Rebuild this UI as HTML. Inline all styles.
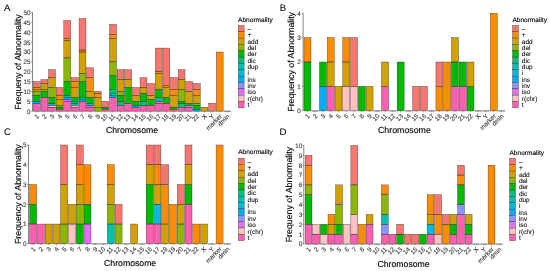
<!DOCTYPE html>
<html><head><meta charset="utf-8"><style>
html,body{margin:0;padding:0;background:#fff;overflow:hidden;}
svg{display:block;font-family:"Liberation Sans",sans-serif;will-change:transform;text-rendering:geometricPrecision;}
text{stroke:#000;stroke-width:0.13px;}
text.g{fill:#3d3d3d;stroke:#4a4a4a;stroke-width:0.14px;}
text.p{stroke-width:0.06px;}
text.l{fill:#111;stroke:#111;stroke-width:0.1px;}
</style></head><body>
<svg width="550" height="271" viewBox="0 0 550 271">
<rect width="550" height="271" fill="#fff"/>
<line x1="33.34" y1="111.25" x2="230.76" y2="111.25" stroke="#9a9a9a" stroke-width="0.6"/>
<rect x="33.34" y="103.22" width="6.86" height="7.88" fill="#FF5FB0"/>
<rect x="33.34" y="101.25" width="6.86" height="1.97" fill="#00ABF5"/>
<rect x="33.34" y="95.34" width="6.86" height="5.91" fill="#00BA00"/>
<rect x="33.34" y="91.4" width="6.86" height="3.94" fill="#8DB600"/>
<rect x="33.34" y="89.43" width="6.86" height="1.97" fill="#D2A100"/>
<rect x="33.34" y="87.46" width="6.86" height="1.97" fill="#FF8C00"/>
<rect x="33.34" y="81.55" width="6.86" height="5.91" fill="#F8766D"/>
<rect x="33.34" y="103.22" width="6.86" height="7.88" fill="none" stroke="#262626" stroke-width="0.35"/>
<rect x="33.34" y="101.25" width="6.86" height="1.97" fill="none" stroke="#262626" stroke-width="0.35"/>
<rect x="33.34" y="95.34" width="6.86" height="5.91" fill="none" stroke="#262626" stroke-width="0.35"/>
<rect x="33.34" y="91.4" width="6.86" height="3.94" fill="none" stroke="#262626" stroke-width="0.35"/>
<rect x="33.34" y="89.43" width="6.86" height="1.97" fill="none" stroke="#262626" stroke-width="0.35"/>
<rect x="33.34" y="87.46" width="6.86" height="1.97" fill="none" stroke="#262626" stroke-width="0.35"/>
<rect x="33.34" y="81.55" width="6.86" height="5.91" fill="none" stroke="#262626" stroke-width="0.35"/>
<rect x="40.97" y="97.31" width="6.86" height="13.79" fill="#FF5FB0"/>
<rect x="40.97" y="91.4" width="6.86" height="5.91" fill="#00BA00"/>
<rect x="40.97" y="89.43" width="6.86" height="1.97" fill="#8DB600"/>
<rect x="40.97" y="83.52" width="6.86" height="5.91" fill="#D2A100"/>
<rect x="40.97" y="79.58" width="6.86" height="3.94" fill="#F8766D"/>
<rect x="40.97" y="97.31" width="6.86" height="13.79" fill="none" stroke="#262626" stroke-width="0.35"/>
<rect x="40.97" y="91.4" width="6.86" height="5.91" fill="none" stroke="#262626" stroke-width="0.35"/>
<rect x="40.97" y="89.43" width="6.86" height="1.97" fill="none" stroke="#262626" stroke-width="0.35"/>
<rect x="40.97" y="83.52" width="6.86" height="5.91" fill="none" stroke="#262626" stroke-width="0.35"/>
<rect x="40.97" y="79.58" width="6.86" height="3.94" fill="none" stroke="#262626" stroke-width="0.35"/>
<rect x="48.59" y="107.16" width="6.86" height="3.94" fill="#FF5FB0"/>
<rect x="48.59" y="105.19" width="6.86" height="1.97" fill="#FFC1C1"/>
<rect x="48.59" y="103.22" width="6.86" height="1.97" fill="#00ABF5"/>
<rect x="48.59" y="97.31" width="6.86" height="5.91" fill="#00BA00"/>
<rect x="48.59" y="87.46" width="6.86" height="9.85" fill="#8DB600"/>
<rect x="48.59" y="77.61" width="6.86" height="9.85" fill="#D2A100"/>
<rect x="48.59" y="69.73" width="6.86" height="7.88" fill="#F8766D"/>
<rect x="48.59" y="107.16" width="6.86" height="3.94" fill="none" stroke="#262626" stroke-width="0.35"/>
<rect x="48.59" y="105.19" width="6.86" height="1.97" fill="none" stroke="#262626" stroke-width="0.35"/>
<rect x="48.59" y="103.22" width="6.86" height="1.97" fill="none" stroke="#262626" stroke-width="0.35"/>
<rect x="48.59" y="97.31" width="6.86" height="5.91" fill="none" stroke="#262626" stroke-width="0.35"/>
<rect x="48.59" y="87.46" width="6.86" height="9.85" fill="none" stroke="#262626" stroke-width="0.35"/>
<rect x="48.59" y="77.61" width="6.86" height="9.85" fill="none" stroke="#262626" stroke-width="0.35"/>
<rect x="48.59" y="69.73" width="6.86" height="7.88" fill="none" stroke="#262626" stroke-width="0.35"/>
<rect x="56.21" y="109.13" width="6.86" height="1.97" fill="#FF5FB0"/>
<rect x="56.21" y="107.16" width="6.86" height="1.97" fill="#00BA00"/>
<rect x="56.21" y="105.19" width="6.86" height="1.97" fill="#8DB600"/>
<rect x="56.21" y="99.28" width="6.86" height="5.91" fill="#D2A100"/>
<rect x="56.21" y="95.34" width="6.86" height="3.94" fill="#FF8C00"/>
<rect x="56.21" y="87.46" width="6.86" height="7.88" fill="#F8766D"/>
<rect x="56.21" y="109.13" width="6.86" height="1.97" fill="none" stroke="#262626" stroke-width="0.35"/>
<rect x="56.21" y="107.16" width="6.86" height="1.97" fill="none" stroke="#262626" stroke-width="0.35"/>
<rect x="56.21" y="105.19" width="6.86" height="1.97" fill="none" stroke="#262626" stroke-width="0.35"/>
<rect x="56.21" y="99.28" width="6.86" height="5.91" fill="none" stroke="#262626" stroke-width="0.35"/>
<rect x="56.21" y="95.34" width="6.86" height="3.94" fill="none" stroke="#262626" stroke-width="0.35"/>
<rect x="56.21" y="87.46" width="6.86" height="7.88" fill="none" stroke="#262626" stroke-width="0.35"/>
<rect x="63.83" y="101.25" width="6.86" height="9.85" fill="#FF5FB0"/>
<rect x="63.83" y="99.28" width="6.86" height="1.97" fill="#E36EF6"/>
<rect x="63.83" y="97.31" width="6.86" height="1.97" fill="#00ABF5"/>
<rect x="63.83" y="95.34" width="6.86" height="1.97" fill="#00BF7D"/>
<rect x="63.83" y="81.55" width="6.86" height="13.79" fill="#00BA00"/>
<rect x="63.83" y="57.91" width="6.86" height="23.64" fill="#8DB600"/>
<rect x="63.83" y="40.18" width="6.86" height="17.73" fill="#D2A100"/>
<rect x="63.83" y="38.21" width="6.86" height="1.97" fill="#FF8C00"/>
<rect x="63.83" y="20.48" width="6.86" height="17.73" fill="#F8766D"/>
<rect x="63.83" y="101.25" width="6.86" height="9.85" fill="none" stroke="#262626" stroke-width="0.35"/>
<rect x="63.83" y="99.28" width="6.86" height="1.97" fill="none" stroke="#262626" stroke-width="0.35"/>
<rect x="63.83" y="97.31" width="6.86" height="1.97" fill="none" stroke="#262626" stroke-width="0.35"/>
<rect x="63.83" y="95.34" width="6.86" height="1.97" fill="none" stroke="#262626" stroke-width="0.35"/>
<rect x="63.83" y="81.55" width="6.86" height="13.79" fill="none" stroke="#262626" stroke-width="0.35"/>
<rect x="63.83" y="57.91" width="6.86" height="23.64" fill="none" stroke="#262626" stroke-width="0.35"/>
<rect x="63.83" y="40.18" width="6.86" height="17.73" fill="none" stroke="#262626" stroke-width="0.35"/>
<rect x="63.83" y="38.21" width="6.86" height="1.97" fill="none" stroke="#262626" stroke-width="0.35"/>
<rect x="63.83" y="20.48" width="6.86" height="17.73" fill="none" stroke="#262626" stroke-width="0.35"/>
<rect x="71.45" y="107.16" width="6.86" height="3.94" fill="#FF5FB0"/>
<rect x="71.45" y="105.19" width="6.86" height="1.97" fill="#FFC1C1"/>
<rect x="71.45" y="103.22" width="6.86" height="1.97" fill="#00BFB2"/>
<rect x="71.45" y="101.25" width="6.86" height="1.97" fill="#00BF7D"/>
<rect x="71.45" y="97.31" width="6.86" height="3.94" fill="#00BA00"/>
<rect x="71.45" y="87.46" width="6.86" height="9.85" fill="#D2A100"/>
<rect x="71.45" y="81.55" width="6.86" height="5.91" fill="#FF8C00"/>
<rect x="71.45" y="77.61" width="6.86" height="3.94" fill="#F8766D"/>
<rect x="71.45" y="107.16" width="6.86" height="3.94" fill="none" stroke="#262626" stroke-width="0.35"/>
<rect x="71.45" y="105.19" width="6.86" height="1.97" fill="none" stroke="#262626" stroke-width="0.35"/>
<rect x="71.45" y="103.22" width="6.86" height="1.97" fill="none" stroke="#262626" stroke-width="0.35"/>
<rect x="71.45" y="101.25" width="6.86" height="1.97" fill="none" stroke="#262626" stroke-width="0.35"/>
<rect x="71.45" y="97.31" width="6.86" height="3.94" fill="none" stroke="#262626" stroke-width="0.35"/>
<rect x="71.45" y="87.46" width="6.86" height="9.85" fill="none" stroke="#262626" stroke-width="0.35"/>
<rect x="71.45" y="81.55" width="6.86" height="5.91" fill="none" stroke="#262626" stroke-width="0.35"/>
<rect x="71.45" y="77.61" width="6.86" height="3.94" fill="none" stroke="#262626" stroke-width="0.35"/>
<rect x="79.08" y="101.25" width="6.86" height="9.85" fill="#FF5FB0"/>
<rect x="79.08" y="99.28" width="6.86" height="1.97" fill="#00ABF5"/>
<rect x="79.08" y="97.31" width="6.86" height="1.97" fill="#00BF7D"/>
<rect x="79.08" y="81.55" width="6.86" height="15.76" fill="#00BA00"/>
<rect x="79.08" y="73.67" width="6.86" height="7.88" fill="#8DB600"/>
<rect x="79.08" y="52" width="6.86" height="21.67" fill="#D2A100"/>
<rect x="79.08" y="50.03" width="6.86" height="1.97" fill="#FF8C00"/>
<rect x="79.08" y="18.51" width="6.86" height="31.52" fill="#F8766D"/>
<rect x="79.08" y="101.25" width="6.86" height="9.85" fill="none" stroke="#262626" stroke-width="0.35"/>
<rect x="79.08" y="99.28" width="6.86" height="1.97" fill="none" stroke="#262626" stroke-width="0.35"/>
<rect x="79.08" y="97.31" width="6.86" height="1.97" fill="none" stroke="#262626" stroke-width="0.35"/>
<rect x="79.08" y="81.55" width="6.86" height="15.76" fill="none" stroke="#262626" stroke-width="0.35"/>
<rect x="79.08" y="73.67" width="6.86" height="7.88" fill="none" stroke="#262626" stroke-width="0.35"/>
<rect x="79.08" y="52" width="6.86" height="21.67" fill="none" stroke="#262626" stroke-width="0.35"/>
<rect x="79.08" y="50.03" width="6.86" height="1.97" fill="none" stroke="#262626" stroke-width="0.35"/>
<rect x="79.08" y="18.51" width="6.86" height="31.52" fill="none" stroke="#262626" stroke-width="0.35"/>
<rect x="86.7" y="107.16" width="6.86" height="3.94" fill="#FF5FB0"/>
<rect x="86.7" y="105.19" width="6.86" height="1.97" fill="#E36EF6"/>
<rect x="86.7" y="103.22" width="6.86" height="1.97" fill="#00BBDA"/>
<rect x="86.7" y="97.31" width="6.86" height="5.91" fill="#00BA00"/>
<rect x="86.7" y="91.4" width="6.86" height="5.91" fill="#D2A100"/>
<rect x="86.7" y="77.61" width="6.86" height="13.79" fill="#FF8C00"/>
<rect x="86.7" y="67.76" width="6.86" height="9.85" fill="#F8766D"/>
<rect x="86.7" y="107.16" width="6.86" height="3.94" fill="none" stroke="#262626" stroke-width="0.35"/>
<rect x="86.7" y="105.19" width="6.86" height="1.97" fill="none" stroke="#262626" stroke-width="0.35"/>
<rect x="86.7" y="103.22" width="6.86" height="1.97" fill="none" stroke="#262626" stroke-width="0.35"/>
<rect x="86.7" y="97.31" width="6.86" height="5.91" fill="none" stroke="#262626" stroke-width="0.35"/>
<rect x="86.7" y="91.4" width="6.86" height="5.91" fill="none" stroke="#262626" stroke-width="0.35"/>
<rect x="86.7" y="77.61" width="6.86" height="13.79" fill="none" stroke="#262626" stroke-width="0.35"/>
<rect x="86.7" y="67.76" width="6.86" height="9.85" fill="none" stroke="#262626" stroke-width="0.35"/>
<rect x="94.32" y="107.16" width="6.86" height="3.94" fill="#8DB600"/>
<rect x="94.32" y="97.31" width="6.86" height="9.85" fill="#D2A100"/>
<rect x="94.32" y="93.37" width="6.86" height="3.94" fill="#FF8C00"/>
<rect x="94.32" y="91.4" width="6.86" height="1.97" fill="#F8766D"/>
<rect x="94.32" y="107.16" width="6.86" height="3.94" fill="none" stroke="#262626" stroke-width="0.35"/>
<rect x="94.32" y="97.31" width="6.86" height="9.85" fill="none" stroke="#262626" stroke-width="0.35"/>
<rect x="94.32" y="93.37" width="6.86" height="3.94" fill="none" stroke="#262626" stroke-width="0.35"/>
<rect x="94.32" y="91.4" width="6.86" height="1.97" fill="none" stroke="#262626" stroke-width="0.35"/>
<rect x="101.94" y="109.13" width="6.86" height="1.97" fill="#FF5FB0"/>
<rect x="101.94" y="107.16" width="6.86" height="1.97" fill="#00BA00"/>
<rect x="101.94" y="101.25" width="6.86" height="5.91" fill="#F8766D"/>
<rect x="101.94" y="109.13" width="6.86" height="1.97" fill="none" stroke="#262626" stroke-width="0.35"/>
<rect x="101.94" y="107.16" width="6.86" height="1.97" fill="none" stroke="#262626" stroke-width="0.35"/>
<rect x="101.94" y="101.25" width="6.86" height="5.91" fill="none" stroke="#262626" stroke-width="0.35"/>
<rect x="109.56" y="97.31" width="6.86" height="13.79" fill="#FF5FB0"/>
<rect x="109.56" y="95.34" width="6.86" height="1.97" fill="#00ABF5"/>
<rect x="109.56" y="93.37" width="6.86" height="1.97" fill="#00BFB2"/>
<rect x="109.56" y="89.43" width="6.86" height="3.94" fill="#00BF7D"/>
<rect x="109.56" y="75.64" width="6.86" height="13.79" fill="#00BA00"/>
<rect x="109.56" y="61.85" width="6.86" height="13.79" fill="#8DB600"/>
<rect x="109.56" y="38.21" width="6.86" height="23.64" fill="#D2A100"/>
<rect x="109.56" y="34.27" width="6.86" height="3.94" fill="#FF8C00"/>
<rect x="109.56" y="24.42" width="6.86" height="9.85" fill="#F8766D"/>
<rect x="109.56" y="97.31" width="6.86" height="13.79" fill="none" stroke="#262626" stroke-width="0.35"/>
<rect x="109.56" y="95.34" width="6.86" height="1.97" fill="none" stroke="#262626" stroke-width="0.35"/>
<rect x="109.56" y="93.37" width="6.86" height="1.97" fill="none" stroke="#262626" stroke-width="0.35"/>
<rect x="109.56" y="89.43" width="6.86" height="3.94" fill="none" stroke="#262626" stroke-width="0.35"/>
<rect x="109.56" y="75.64" width="6.86" height="13.79" fill="none" stroke="#262626" stroke-width="0.35"/>
<rect x="109.56" y="61.85" width="6.86" height="13.79" fill="none" stroke="#262626" stroke-width="0.35"/>
<rect x="109.56" y="38.21" width="6.86" height="23.64" fill="none" stroke="#262626" stroke-width="0.35"/>
<rect x="109.56" y="34.27" width="6.86" height="3.94" fill="none" stroke="#262626" stroke-width="0.35"/>
<rect x="109.56" y="24.42" width="6.86" height="9.85" fill="none" stroke="#262626" stroke-width="0.35"/>
<rect x="117.19" y="105.19" width="6.86" height="5.91" fill="#FF5FB0"/>
<rect x="117.19" y="101.25" width="6.86" height="3.94" fill="#00BF7D"/>
<rect x="117.19" y="95.34" width="6.86" height="5.91" fill="#00BA00"/>
<rect x="117.19" y="91.4" width="6.86" height="3.94" fill="#8DB600"/>
<rect x="117.19" y="79.58" width="6.86" height="11.82" fill="#D2A100"/>
<rect x="117.19" y="69.73" width="6.86" height="9.85" fill="#F8766D"/>
<rect x="117.19" y="105.19" width="6.86" height="5.91" fill="none" stroke="#262626" stroke-width="0.35"/>
<rect x="117.19" y="101.25" width="6.86" height="3.94" fill="none" stroke="#262626" stroke-width="0.35"/>
<rect x="117.19" y="95.34" width="6.86" height="5.91" fill="none" stroke="#262626" stroke-width="0.35"/>
<rect x="117.19" y="91.4" width="6.86" height="3.94" fill="none" stroke="#262626" stroke-width="0.35"/>
<rect x="117.19" y="79.58" width="6.86" height="11.82" fill="none" stroke="#262626" stroke-width="0.35"/>
<rect x="117.19" y="69.73" width="6.86" height="9.85" fill="none" stroke="#262626" stroke-width="0.35"/>
<rect x="124.81" y="103.22" width="6.86" height="7.88" fill="#FF5FB0"/>
<rect x="124.81" y="87.46" width="6.86" height="15.76" fill="#00BA00"/>
<rect x="124.81" y="79.58" width="6.86" height="7.88" fill="#D2A100"/>
<rect x="124.81" y="69.73" width="6.86" height="9.85" fill="#F8766D"/>
<rect x="124.81" y="103.22" width="6.86" height="7.88" fill="none" stroke="#262626" stroke-width="0.35"/>
<rect x="124.81" y="87.46" width="6.86" height="15.76" fill="none" stroke="#262626" stroke-width="0.35"/>
<rect x="124.81" y="79.58" width="6.86" height="7.88" fill="none" stroke="#262626" stroke-width="0.35"/>
<rect x="124.81" y="69.73" width="6.86" height="9.85" fill="none" stroke="#262626" stroke-width="0.35"/>
<rect x="132.43" y="107.16" width="6.86" height="3.94" fill="#FF5FB0"/>
<rect x="132.43" y="105.19" width="6.86" height="1.97" fill="#00ABF5"/>
<rect x="132.43" y="101.25" width="6.86" height="3.94" fill="#00BA00"/>
<rect x="132.43" y="95.34" width="6.86" height="5.91" fill="#D2A100"/>
<rect x="132.43" y="87.46" width="6.86" height="7.88" fill="#F8766D"/>
<rect x="132.43" y="107.16" width="6.86" height="3.94" fill="none" stroke="#262626" stroke-width="0.35"/>
<rect x="132.43" y="105.19" width="6.86" height="1.97" fill="none" stroke="#262626" stroke-width="0.35"/>
<rect x="132.43" y="101.25" width="6.86" height="3.94" fill="none" stroke="#262626" stroke-width="0.35"/>
<rect x="132.43" y="95.34" width="6.86" height="5.91" fill="none" stroke="#262626" stroke-width="0.35"/>
<rect x="132.43" y="87.46" width="6.86" height="7.88" fill="none" stroke="#262626" stroke-width="0.35"/>
<rect x="140.05" y="105.19" width="6.86" height="5.91" fill="#FF5FB0"/>
<rect x="140.05" y="101.25" width="6.86" height="3.94" fill="#00BF7D"/>
<rect x="140.05" y="93.37" width="6.86" height="7.88" fill="#00BA00"/>
<rect x="140.05" y="87.46" width="6.86" height="5.91" fill="#D2A100"/>
<rect x="140.05" y="77.61" width="6.86" height="9.85" fill="#F8766D"/>
<rect x="140.05" y="105.19" width="6.86" height="5.91" fill="none" stroke="#262626" stroke-width="0.35"/>
<rect x="140.05" y="101.25" width="6.86" height="3.94" fill="none" stroke="#262626" stroke-width="0.35"/>
<rect x="140.05" y="93.37" width="6.86" height="7.88" fill="none" stroke="#262626" stroke-width="0.35"/>
<rect x="140.05" y="87.46" width="6.86" height="5.91" fill="none" stroke="#262626" stroke-width="0.35"/>
<rect x="140.05" y="77.61" width="6.86" height="9.85" fill="none" stroke="#262626" stroke-width="0.35"/>
<rect x="147.68" y="105.19" width="6.86" height="5.91" fill="#FF5FB0"/>
<rect x="147.68" y="99.28" width="6.86" height="5.91" fill="#00BA00"/>
<rect x="147.68" y="95.34" width="6.86" height="3.94" fill="#D2A100"/>
<rect x="147.68" y="83.52" width="6.86" height="11.82" fill="#F8766D"/>
<rect x="147.68" y="105.19" width="6.86" height="5.91" fill="none" stroke="#262626" stroke-width="0.35"/>
<rect x="147.68" y="99.28" width="6.86" height="5.91" fill="none" stroke="#262626" stroke-width="0.35"/>
<rect x="147.68" y="95.34" width="6.86" height="3.94" fill="none" stroke="#262626" stroke-width="0.35"/>
<rect x="147.68" y="83.52" width="6.86" height="11.82" fill="none" stroke="#262626" stroke-width="0.35"/>
<rect x="155.3" y="103.22" width="6.86" height="7.88" fill="#FF5FB0"/>
<rect x="155.3" y="101.25" width="6.86" height="1.97" fill="#E36EF6"/>
<rect x="155.3" y="97.31" width="6.86" height="3.94" fill="#00BF7D"/>
<rect x="155.3" y="89.43" width="6.86" height="7.88" fill="#00BA00"/>
<rect x="155.3" y="73.67" width="6.86" height="15.76" fill="#D2A100"/>
<rect x="155.3" y="71.7" width="6.86" height="1.97" fill="#FF8C00"/>
<rect x="155.3" y="48.06" width="6.86" height="23.64" fill="#F8766D"/>
<rect x="155.3" y="103.22" width="6.86" height="7.88" fill="none" stroke="#262626" stroke-width="0.35"/>
<rect x="155.3" y="101.25" width="6.86" height="1.97" fill="none" stroke="#262626" stroke-width="0.35"/>
<rect x="155.3" y="97.31" width="6.86" height="3.94" fill="none" stroke="#262626" stroke-width="0.35"/>
<rect x="155.3" y="89.43" width="6.86" height="7.88" fill="none" stroke="#262626" stroke-width="0.35"/>
<rect x="155.3" y="73.67" width="6.86" height="15.76" fill="none" stroke="#262626" stroke-width="0.35"/>
<rect x="155.3" y="71.7" width="6.86" height="1.97" fill="none" stroke="#262626" stroke-width="0.35"/>
<rect x="155.3" y="48.06" width="6.86" height="23.64" fill="none" stroke="#262626" stroke-width="0.35"/>
<rect x="162.92" y="103.22" width="6.86" height="7.88" fill="#FF5FB0"/>
<rect x="162.92" y="97.31" width="6.86" height="5.91" fill="#00BA00"/>
<rect x="162.92" y="87.46" width="6.86" height="9.85" fill="#D2A100"/>
<rect x="162.92" y="85.49" width="6.86" height="1.97" fill="#FF8C00"/>
<rect x="162.92" y="48.06" width="6.86" height="37.43" fill="#F8766D"/>
<rect x="162.92" y="103.22" width="6.86" height="7.88" fill="none" stroke="#262626" stroke-width="0.35"/>
<rect x="162.92" y="97.31" width="6.86" height="5.91" fill="none" stroke="#262626" stroke-width="0.35"/>
<rect x="162.92" y="87.46" width="6.86" height="9.85" fill="none" stroke="#262626" stroke-width="0.35"/>
<rect x="162.92" y="85.49" width="6.86" height="1.97" fill="none" stroke="#262626" stroke-width="0.35"/>
<rect x="162.92" y="48.06" width="6.86" height="37.43" fill="none" stroke="#262626" stroke-width="0.35"/>
<rect x="170.54" y="109.13" width="6.86" height="1.97" fill="#FF5FB0"/>
<rect x="170.54" y="107.16" width="6.86" height="1.97" fill="#00BA00"/>
<rect x="170.54" y="95.34" width="6.86" height="11.82" fill="#D2A100"/>
<rect x="170.54" y="89.43" width="6.86" height="5.91" fill="#FF8C00"/>
<rect x="170.54" y="77.61" width="6.86" height="11.82" fill="#F8766D"/>
<rect x="170.54" y="109.13" width="6.86" height="1.97" fill="none" stroke="#262626" stroke-width="0.35"/>
<rect x="170.54" y="107.16" width="6.86" height="1.97" fill="none" stroke="#262626" stroke-width="0.35"/>
<rect x="170.54" y="95.34" width="6.86" height="11.82" fill="none" stroke="#262626" stroke-width="0.35"/>
<rect x="170.54" y="89.43" width="6.86" height="5.91" fill="none" stroke="#262626" stroke-width="0.35"/>
<rect x="170.54" y="77.61" width="6.86" height="11.82" fill="none" stroke="#262626" stroke-width="0.35"/>
<rect x="178.16" y="107.16" width="6.86" height="3.94" fill="#FF5FB0"/>
<rect x="178.16" y="103.22" width="6.86" height="3.94" fill="#00BF7D"/>
<rect x="178.16" y="101.25" width="6.86" height="1.97" fill="#00BA00"/>
<rect x="178.16" y="89.43" width="6.86" height="11.82" fill="#8DB600"/>
<rect x="178.16" y="79.58" width="6.86" height="9.85" fill="#D2A100"/>
<rect x="178.16" y="69.73" width="6.86" height="9.85" fill="#F8766D"/>
<rect x="178.16" y="107.16" width="6.86" height="3.94" fill="none" stroke="#262626" stroke-width="0.35"/>
<rect x="178.16" y="103.22" width="6.86" height="3.94" fill="none" stroke="#262626" stroke-width="0.35"/>
<rect x="178.16" y="101.25" width="6.86" height="1.97" fill="none" stroke="#262626" stroke-width="0.35"/>
<rect x="178.16" y="89.43" width="6.86" height="11.82" fill="none" stroke="#262626" stroke-width="0.35"/>
<rect x="178.16" y="79.58" width="6.86" height="9.85" fill="none" stroke="#262626" stroke-width="0.35"/>
<rect x="178.16" y="69.73" width="6.86" height="9.85" fill="none" stroke="#262626" stroke-width="0.35"/>
<rect x="185.79" y="107.16" width="6.86" height="3.94" fill="#FF5FB0"/>
<rect x="185.79" y="105.19" width="6.86" height="1.97" fill="#E36EF6"/>
<rect x="185.79" y="103.22" width="6.86" height="1.97" fill="#00BA00"/>
<rect x="185.79" y="91.4" width="6.86" height="11.82" fill="#D2A100"/>
<rect x="185.79" y="81.55" width="6.86" height="9.85" fill="#F8766D"/>
<rect x="185.79" y="107.16" width="6.86" height="3.94" fill="none" stroke="#262626" stroke-width="0.35"/>
<rect x="185.79" y="105.19" width="6.86" height="1.97" fill="none" stroke="#262626" stroke-width="0.35"/>
<rect x="185.79" y="103.22" width="6.86" height="1.97" fill="none" stroke="#262626" stroke-width="0.35"/>
<rect x="185.79" y="91.4" width="6.86" height="11.82" fill="none" stroke="#262626" stroke-width="0.35"/>
<rect x="185.79" y="81.55" width="6.86" height="9.85" fill="none" stroke="#262626" stroke-width="0.35"/>
<rect x="193.41" y="109.13" width="6.86" height="1.97" fill="#00ABF5"/>
<rect x="193.41" y="105.19" width="6.86" height="3.94" fill="#00BA00"/>
<rect x="193.41" y="103.22" width="6.86" height="1.97" fill="#8DB600"/>
<rect x="193.41" y="95.34" width="6.86" height="7.88" fill="#D2A100"/>
<rect x="193.41" y="89.43" width="6.86" height="5.91" fill="#FF8C00"/>
<rect x="193.41" y="83.52" width="6.86" height="5.91" fill="#F8766D"/>
<rect x="193.41" y="109.13" width="6.86" height="1.97" fill="none" stroke="#262626" stroke-width="0.35"/>
<rect x="193.41" y="105.19" width="6.86" height="3.94" fill="none" stroke="#262626" stroke-width="0.35"/>
<rect x="193.41" y="103.22" width="6.86" height="1.97" fill="none" stroke="#262626" stroke-width="0.35"/>
<rect x="193.41" y="95.34" width="6.86" height="7.88" fill="none" stroke="#262626" stroke-width="0.35"/>
<rect x="193.41" y="89.43" width="6.86" height="5.91" fill="none" stroke="#262626" stroke-width="0.35"/>
<rect x="193.41" y="83.52" width="6.86" height="5.91" fill="none" stroke="#262626" stroke-width="0.35"/>
<rect x="201.03" y="107.16" width="6.86" height="3.94" fill="#D2A100"/>
<rect x="201.03" y="107.16" width="6.86" height="3.94" fill="none" stroke="#262626" stroke-width="0.35"/>
<rect x="208.65" y="103.22" width="6.86" height="7.88" fill="#F8766D"/>
<rect x="208.65" y="103.22" width="6.86" height="7.88" fill="none" stroke="#262626" stroke-width="0.35"/>
<rect x="216.27" y="52" width="6.86" height="59.1" fill="#FF8C00"/>
<rect x="216.27" y="52" width="6.86" height="59.1" fill="none" stroke="#262626" stroke-width="0.35"/>
<line x1="223.9" y1="111.2" x2="230.76" y2="111.2" stroke="#555" stroke-width="0.7"/>
<line x1="32.5" y1="12.3" x2="32.5" y2="111.4" stroke="#5a5a5a" stroke-width="0.75"/>
<line x1="31" y1="111.1" x2="32.5" y2="111.1" stroke="#5a5a5a" stroke-width="0.5"/>
<text x="30.5" y="113.51" font-size="6.35" class="g" text-anchor="end">0</text>
<line x1="31" y1="101.25" x2="32.5" y2="101.25" stroke="#5a5a5a" stroke-width="0.5"/>
<text x="30.5" y="103.66" font-size="6.35" class="g" text-anchor="end">5</text>
<line x1="31" y1="91.4" x2="32.5" y2="91.4" stroke="#5a5a5a" stroke-width="0.5"/>
<text x="30.5" y="93.81" font-size="6.35" class="g" text-anchor="end">10</text>
<line x1="31" y1="81.55" x2="32.5" y2="81.55" stroke="#5a5a5a" stroke-width="0.5"/>
<text x="30.5" y="83.96" font-size="6.35" class="g" text-anchor="end">15</text>
<line x1="31" y1="71.7" x2="32.5" y2="71.7" stroke="#5a5a5a" stroke-width="0.5"/>
<text x="30.5" y="74.11" font-size="6.35" class="g" text-anchor="end">20</text>
<line x1="31" y1="61.85" x2="32.5" y2="61.85" stroke="#5a5a5a" stroke-width="0.5"/>
<text x="30.5" y="64.26" font-size="6.35" class="g" text-anchor="end">25</text>
<line x1="31" y1="52" x2="32.5" y2="52" stroke="#5a5a5a" stroke-width="0.5"/>
<text x="30.5" y="54.41" font-size="6.35" class="g" text-anchor="end">30</text>
<line x1="31" y1="42.15" x2="32.5" y2="42.15" stroke="#5a5a5a" stroke-width="0.5"/>
<text x="30.5" y="44.56" font-size="6.35" class="g" text-anchor="end">35</text>
<line x1="31" y1="32.3" x2="32.5" y2="32.3" stroke="#5a5a5a" stroke-width="0.5"/>
<text x="30.5" y="34.71" font-size="6.35" class="g" text-anchor="end">40</text>
<line x1="31" y1="22.45" x2="32.5" y2="22.45" stroke="#5a5a5a" stroke-width="0.5"/>
<text x="30.5" y="24.86" font-size="6.35" class="g" text-anchor="end">45</text>
<line x1="31" y1="12.6" x2="32.5" y2="12.6" stroke="#5a5a5a" stroke-width="0.5"/>
<text x="30.5" y="15.01" font-size="6.35" class="g" text-anchor="end">50</text>
<line x1="36.77" y1="111.1" x2="36.77" y2="112.5" stroke="#5a5a5a" stroke-width="0.5"/>
<text transform="translate(37.27,114.6) rotate(-45)" font-size="6.35" class="g" text-anchor="end" y="3.2">1</text>
<line x1="44.4" y1="111.1" x2="44.4" y2="112.5" stroke="#5a5a5a" stroke-width="0.5"/>
<text transform="translate(44.9,114.6) rotate(-45)" font-size="6.35" class="g" text-anchor="end" y="3.2">2</text>
<line x1="52.02" y1="111.1" x2="52.02" y2="112.5" stroke="#5a5a5a" stroke-width="0.5"/>
<text transform="translate(52.52,114.6) rotate(-45)" font-size="6.35" class="g" text-anchor="end" y="3.2">3</text>
<line x1="59.64" y1="111.1" x2="59.64" y2="112.5" stroke="#5a5a5a" stroke-width="0.5"/>
<text transform="translate(60.14,114.6) rotate(-45)" font-size="6.35" class="g" text-anchor="end" y="3.2">4</text>
<line x1="67.26" y1="111.1" x2="67.26" y2="112.5" stroke="#5a5a5a" stroke-width="0.5"/>
<text transform="translate(67.76,114.6) rotate(-45)" font-size="6.35" class="g" text-anchor="end" y="3.2">5</text>
<line x1="74.88" y1="111.1" x2="74.88" y2="112.5" stroke="#5a5a5a" stroke-width="0.5"/>
<text transform="translate(75.38,114.6) rotate(-45)" font-size="6.35" class="g" text-anchor="end" y="3.2">6</text>
<line x1="82.51" y1="111.1" x2="82.51" y2="112.5" stroke="#5a5a5a" stroke-width="0.5"/>
<text transform="translate(83.01,114.6) rotate(-45)" font-size="6.35" class="g" text-anchor="end" y="3.2">7</text>
<line x1="90.13" y1="111.1" x2="90.13" y2="112.5" stroke="#5a5a5a" stroke-width="0.5"/>
<text transform="translate(90.63,114.6) rotate(-45)" font-size="6.35" class="g" text-anchor="end" y="3.2">8</text>
<line x1="97.75" y1="111.1" x2="97.75" y2="112.5" stroke="#5a5a5a" stroke-width="0.5"/>
<text transform="translate(98.25,114.6) rotate(-45)" font-size="6.35" class="g" text-anchor="end" y="3.2">9</text>
<line x1="105.37" y1="111.1" x2="105.37" y2="112.5" stroke="#5a5a5a" stroke-width="0.5"/>
<text transform="translate(105.87,114.6) rotate(-45)" font-size="6.35" class="g" text-anchor="end" y="3.2">10</text>
<line x1="112.99" y1="111.1" x2="112.99" y2="112.5" stroke="#5a5a5a" stroke-width="0.5"/>
<text transform="translate(113.49,114.6) rotate(-45)" font-size="6.35" class="g" text-anchor="end" y="3.2">11</text>
<line x1="120.62" y1="111.1" x2="120.62" y2="112.5" stroke="#5a5a5a" stroke-width="0.5"/>
<text transform="translate(121.12,114.6) rotate(-45)" font-size="6.35" class="g" text-anchor="end" y="3.2">12</text>
<line x1="128.24" y1="111.1" x2="128.24" y2="112.5" stroke="#5a5a5a" stroke-width="0.5"/>
<text transform="translate(128.74,114.6) rotate(-45)" font-size="6.35" class="g" text-anchor="end" y="3.2">13</text>
<line x1="135.86" y1="111.1" x2="135.86" y2="112.5" stroke="#5a5a5a" stroke-width="0.5"/>
<text transform="translate(136.36,114.6) rotate(-45)" font-size="6.35" class="g" text-anchor="end" y="3.2">14</text>
<line x1="143.48" y1="111.1" x2="143.48" y2="112.5" stroke="#5a5a5a" stroke-width="0.5"/>
<text transform="translate(143.98,114.6) rotate(-45)" font-size="6.35" class="g" text-anchor="end" y="3.2">15</text>
<line x1="151.11" y1="111.1" x2="151.11" y2="112.5" stroke="#5a5a5a" stroke-width="0.5"/>
<text transform="translate(151.61,114.6) rotate(-45)" font-size="6.35" class="g" text-anchor="end" y="3.2">16</text>
<line x1="158.73" y1="111.1" x2="158.73" y2="112.5" stroke="#5a5a5a" stroke-width="0.5"/>
<text transform="translate(159.23,114.6) rotate(-45)" font-size="6.35" class="g" text-anchor="end" y="3.2">17</text>
<line x1="166.35" y1="111.1" x2="166.35" y2="112.5" stroke="#5a5a5a" stroke-width="0.5"/>
<text transform="translate(166.85,114.6) rotate(-45)" font-size="6.35" class="g" text-anchor="end" y="3.2">18</text>
<line x1="173.97" y1="111.1" x2="173.97" y2="112.5" stroke="#5a5a5a" stroke-width="0.5"/>
<text transform="translate(174.47,114.6) rotate(-45)" font-size="6.35" class="g" text-anchor="end" y="3.2">19</text>
<line x1="181.59" y1="111.1" x2="181.59" y2="112.5" stroke="#5a5a5a" stroke-width="0.5"/>
<text transform="translate(182.09,114.6) rotate(-45)" font-size="6.35" class="g" text-anchor="end" y="3.2">20</text>
<line x1="189.22" y1="111.1" x2="189.22" y2="112.5" stroke="#5a5a5a" stroke-width="0.5"/>
<text transform="translate(189.72,114.6) rotate(-45)" font-size="6.35" class="g" text-anchor="end" y="3.2">21</text>
<line x1="196.84" y1="111.1" x2="196.84" y2="112.5" stroke="#5a5a5a" stroke-width="0.5"/>
<text transform="translate(197.34,114.6) rotate(-45)" font-size="6.35" class="g" text-anchor="end" y="3.2">22</text>
<line x1="204.46" y1="111.1" x2="204.46" y2="112.5" stroke="#5a5a5a" stroke-width="0.5"/>
<text transform="translate(204.96,114.6) rotate(-45)" font-size="6.35" class="g" text-anchor="end" y="3.2">X</text>
<line x1="212.08" y1="111.1" x2="212.08" y2="112.5" stroke="#5a5a5a" stroke-width="0.5"/>
<text transform="translate(212.58,114.6) rotate(-45)" font-size="6.35" class="g" text-anchor="end" y="3.2">Y</text>
<line x1="219.7" y1="111.1" x2="219.7" y2="112.5" stroke="#5a5a5a" stroke-width="0.5"/>
<text transform="translate(220.2,114.6) rotate(-45)" font-size="6.35" class="g" text-anchor="end" y="3.2">marker</text>
<line x1="227.33" y1="111.1" x2="227.33" y2="112.5" stroke="#5a5a5a" stroke-width="0.5"/>
<text transform="translate(227.83,114.6) rotate(-45)" font-size="6.35" class="g" text-anchor="end" y="3.2">dmin</text>
<text transform="translate(20.5,61.98) rotate(-90)" font-size="8.8" text-anchor="middle">Frequeny of Abnormality</text>
<text x="132" y="133.3" font-size="8.7" text-anchor="middle">Chromosome</text>
<text class="p" x="4.1" y="11.1" font-size="9.6">A</text>
<text x="238.1" y="21.6" font-size="6.55">Abnormality</text>
<rect x="238.3" y="25.45" width="5.8" height="6.34" fill="#F8766D" stroke="#262626" stroke-width="0.35"/>
<text class="l" x="247.5" y="31.02" font-size="6.5">–</text>
<rect x="238.3" y="31.79" width="5.8" height="6.34" fill="#FF8C00" stroke="#262626" stroke-width="0.35"/>
<text class="l" x="247.5" y="37.37" font-size="6.5">+</text>
<rect x="238.3" y="38.13" width="5.8" height="6.34" fill="#D2A100" stroke="#262626" stroke-width="0.35"/>
<text class="l" x="247.5" y="43.7" font-size="6.5">add</text>
<rect x="238.3" y="44.47" width="5.8" height="6.34" fill="#8DB600" stroke="#262626" stroke-width="0.35"/>
<text class="l" x="247.5" y="50.05" font-size="6.5">del</text>
<rect x="238.3" y="50.81" width="5.8" height="6.34" fill="#00BA00" stroke="#262626" stroke-width="0.35"/>
<text class="l" x="247.5" y="56.39" font-size="6.5">der</text>
<rect x="238.3" y="57.15" width="5.8" height="6.34" fill="#00BF7D" stroke="#262626" stroke-width="0.35"/>
<text class="l" x="247.5" y="62.73" font-size="6.5">dic</text>
<rect x="238.3" y="63.49" width="5.8" height="6.34" fill="#00BFB2" stroke="#262626" stroke-width="0.35"/>
<text class="l" x="247.5" y="69.06" font-size="6.5">dup</text>
<rect x="238.3" y="69.83" width="5.8" height="6.34" fill="#00BBDA" stroke="#262626" stroke-width="0.35"/>
<text class="l" x="247.5" y="75.41" font-size="6.5">i</text>
<rect x="238.3" y="76.17" width="5.8" height="6.34" fill="#00ABF5" stroke="#262626" stroke-width="0.35"/>
<text class="l" x="247.5" y="81.75" font-size="6.5">ins</text>
<rect x="238.3" y="82.51" width="5.8" height="6.34" fill="#8B93FF" stroke="#262626" stroke-width="0.35"/>
<text class="l" x="247.5" y="88.09" font-size="6.5">inv</text>
<rect x="238.3" y="88.85" width="5.8" height="6.34" fill="#E36EF6" stroke="#262626" stroke-width="0.35"/>
<text class="l" x="247.5" y="94.42" font-size="6.5">iso</text>
<rect x="238.3" y="95.19" width="5.8" height="6.34" fill="#FFC1C1" stroke="#262626" stroke-width="0.35"/>
<text class="l" x="247.5" y="100.77" font-size="6.5">r(chr)</text>
<rect x="238.3" y="101.53" width="5.8" height="6.34" fill="#FF5FB0" stroke="#262626" stroke-width="0.35"/>
<text class="l" x="247.5" y="107.11" font-size="6.5">t</text>
<line x1="303.96" y1="110.95" x2="505.04" y2="110.95" stroke="#9a9a9a" stroke-width="0.6"/>
<rect x="303.96" y="62" width="6.99" height="48.8" fill="#00BA00"/>
<rect x="303.96" y="37.6" width="6.99" height="24.4" fill="#FF8C00"/>
<rect x="303.96" y="62" width="6.99" height="48.8" fill="none" stroke="#262626" stroke-width="0.35"/>
<rect x="303.96" y="37.6" width="6.99" height="24.4" fill="none" stroke="#262626" stroke-width="0.35"/>
<line x1="311.73" y1="110.9" x2="318.71" y2="110.9" stroke="#555" stroke-width="0.7"/>
<rect x="319.49" y="86.4" width="6.99" height="24.4" fill="#00ABF5"/>
<rect x="319.49" y="62" width="6.99" height="24.4" fill="#00BA00"/>
<rect x="319.49" y="86.4" width="6.99" height="24.4" fill="none" stroke="#262626" stroke-width="0.35"/>
<rect x="319.49" y="62" width="6.99" height="24.4" fill="none" stroke="#262626" stroke-width="0.35"/>
<rect x="327.25" y="86.4" width="6.99" height="24.4" fill="#FF5FB0"/>
<rect x="327.25" y="62" width="6.99" height="24.4" fill="#D2A100"/>
<rect x="327.25" y="37.6" width="6.99" height="24.4" fill="#FF8C00"/>
<rect x="327.25" y="86.4" width="6.99" height="24.4" fill="none" stroke="#262626" stroke-width="0.35"/>
<rect x="327.25" y="62" width="6.99" height="24.4" fill="none" stroke="#262626" stroke-width="0.35"/>
<rect x="327.25" y="37.6" width="6.99" height="24.4" fill="none" stroke="#262626" stroke-width="0.35"/>
<rect x="335.02" y="86.4" width="6.99" height="24.4" fill="#D2A100"/>
<rect x="335.02" y="86.4" width="6.99" height="24.4" fill="none" stroke="#262626" stroke-width="0.35"/>
<rect x="342.78" y="86.4" width="6.99" height="24.4" fill="#FFC1C1"/>
<rect x="342.78" y="62" width="6.99" height="24.4" fill="#D2A100"/>
<rect x="342.78" y="37.6" width="6.99" height="24.4" fill="#FF8C00"/>
<rect x="342.78" y="86.4" width="6.99" height="24.4" fill="none" stroke="#262626" stroke-width="0.35"/>
<rect x="342.78" y="62" width="6.99" height="24.4" fill="none" stroke="#262626" stroke-width="0.35"/>
<rect x="342.78" y="37.6" width="6.99" height="24.4" fill="none" stroke="#262626" stroke-width="0.35"/>
<rect x="350.54" y="86.4" width="6.99" height="24.4" fill="#FFC1C1"/>
<rect x="350.54" y="37.6" width="6.99" height="48.8" fill="#F8766D"/>
<rect x="350.54" y="86.4" width="6.99" height="24.4" fill="none" stroke="#262626" stroke-width="0.35"/>
<rect x="350.54" y="37.6" width="6.99" height="48.8" fill="none" stroke="#262626" stroke-width="0.35"/>
<rect x="358.31" y="86.4" width="6.99" height="24.4" fill="#00BA00"/>
<rect x="358.31" y="86.4" width="6.99" height="24.4" fill="none" stroke="#262626" stroke-width="0.35"/>
<rect x="366.07" y="86.4" width="6.99" height="24.4" fill="#D2A100"/>
<rect x="366.07" y="86.4" width="6.99" height="24.4" fill="none" stroke="#262626" stroke-width="0.35"/>
<line x1="373.83" y1="110.9" x2="380.82" y2="110.9" stroke="#555" stroke-width="0.7"/>
<rect x="381.6" y="86.4" width="6.99" height="24.4" fill="#FF5FB0"/>
<rect x="381.6" y="62" width="6.99" height="24.4" fill="#D2A100"/>
<rect x="381.6" y="86.4" width="6.99" height="24.4" fill="none" stroke="#262626" stroke-width="0.35"/>
<rect x="381.6" y="62" width="6.99" height="24.4" fill="none" stroke="#262626" stroke-width="0.35"/>
<line x1="389.36" y1="110.9" x2="396.35" y2="110.9" stroke="#555" stroke-width="0.7"/>
<rect x="397.12" y="62" width="6.99" height="48.8" fill="#00BA00"/>
<rect x="397.12" y="62" width="6.99" height="48.8" fill="none" stroke="#262626" stroke-width="0.35"/>
<line x1="404.89" y1="110.9" x2="411.88" y2="110.9" stroke="#555" stroke-width="0.7"/>
<rect x="412.65" y="86.4" width="6.99" height="24.4" fill="#F8766D"/>
<rect x="412.65" y="86.4" width="6.99" height="24.4" fill="none" stroke="#262626" stroke-width="0.35"/>
<rect x="420.41" y="86.4" width="6.99" height="24.4" fill="#F8766D"/>
<rect x="420.41" y="86.4" width="6.99" height="24.4" fill="none" stroke="#262626" stroke-width="0.35"/>
<line x1="428.18" y1="110.9" x2="435.17" y2="110.9" stroke="#555" stroke-width="0.7"/>
<rect x="435.94" y="86.4" width="6.99" height="24.4" fill="#FF8C00"/>
<rect x="435.94" y="62" width="6.99" height="24.4" fill="#F8766D"/>
<rect x="435.94" y="86.4" width="6.99" height="24.4" fill="none" stroke="#262626" stroke-width="0.35"/>
<rect x="435.94" y="62" width="6.99" height="24.4" fill="none" stroke="#262626" stroke-width="0.35"/>
<rect x="443.7" y="62" width="6.99" height="48.8" fill="#FF8C00"/>
<rect x="443.7" y="62" width="6.99" height="48.8" fill="none" stroke="#262626" stroke-width="0.35"/>
<rect x="451.47" y="86.4" width="6.99" height="24.4" fill="#FF5FB0"/>
<rect x="451.47" y="62" width="6.99" height="24.4" fill="#00BA00"/>
<rect x="451.47" y="37.6" width="6.99" height="24.4" fill="#D2A100"/>
<rect x="451.47" y="86.4" width="6.99" height="24.4" fill="none" stroke="#262626" stroke-width="0.35"/>
<rect x="451.47" y="62" width="6.99" height="24.4" fill="none" stroke="#262626" stroke-width="0.35"/>
<rect x="451.47" y="37.6" width="6.99" height="24.4" fill="none" stroke="#262626" stroke-width="0.35"/>
<rect x="459.23" y="86.4" width="6.99" height="24.4" fill="#FF5FB0"/>
<rect x="459.23" y="62" width="6.99" height="24.4" fill="#00BA00"/>
<rect x="459.23" y="86.4" width="6.99" height="24.4" fill="none" stroke="#262626" stroke-width="0.35"/>
<rect x="459.23" y="62" width="6.99" height="24.4" fill="none" stroke="#262626" stroke-width="0.35"/>
<rect x="467" y="86.4" width="6.99" height="24.4" fill="#00BA00"/>
<rect x="467" y="62" width="6.99" height="24.4" fill="#D2A100"/>
<rect x="467" y="86.4" width="6.99" height="24.4" fill="none" stroke="#262626" stroke-width="0.35"/>
<rect x="467" y="62" width="6.99" height="24.4" fill="none" stroke="#262626" stroke-width="0.35"/>
<line x1="474.76" y1="110.9" x2="481.75" y2="110.9" stroke="#555" stroke-width="0.7"/>
<line x1="482.52" y1="110.9" x2="489.51" y2="110.9" stroke="#555" stroke-width="0.7"/>
<rect x="490.29" y="13.2" width="6.99" height="97.6" fill="#FF8C00"/>
<rect x="490.29" y="13.2" width="6.99" height="97.6" fill="none" stroke="#262626" stroke-width="0.35"/>
<line x1="498.05" y1="110.9" x2="505.04" y2="110.9" stroke="#555" stroke-width="0.7"/>
<line x1="303.1" y1="12.9" x2="303.1" y2="111.1" stroke="#5a5a5a" stroke-width="0.75"/>
<line x1="301.6" y1="110.8" x2="303.1" y2="110.8" stroke="#5a5a5a" stroke-width="0.5"/>
<text x="300.9" y="113.21" font-size="6.35" class="g" text-anchor="end">0</text>
<line x1="301.6" y1="86.4" x2="303.1" y2="86.4" stroke="#5a5a5a" stroke-width="0.5"/>
<text x="300.9" y="88.81" font-size="6.35" class="g" text-anchor="end">1</text>
<line x1="301.6" y1="62" x2="303.1" y2="62" stroke="#5a5a5a" stroke-width="0.5"/>
<text x="300.9" y="64.41" font-size="6.35" class="g" text-anchor="end">2</text>
<line x1="301.6" y1="37.6" x2="303.1" y2="37.6" stroke="#5a5a5a" stroke-width="0.5"/>
<text x="300.9" y="40.01" font-size="6.35" class="g" text-anchor="end">3</text>
<line x1="301.6" y1="13.2" x2="303.1" y2="13.2" stroke="#5a5a5a" stroke-width="0.5"/>
<text x="300.9" y="15.61" font-size="6.35" class="g" text-anchor="end">4</text>
<line x1="307.46" y1="110.8" x2="307.46" y2="112.2" stroke="#5a5a5a" stroke-width="0.5"/>
<text transform="translate(307.96,114.3) rotate(-45)" font-size="6.35" class="g" text-anchor="end" y="3.2">1</text>
<line x1="315.22" y1="110.8" x2="315.22" y2="112.2" stroke="#5a5a5a" stroke-width="0.5"/>
<text transform="translate(315.72,114.3) rotate(-45)" font-size="6.35" class="g" text-anchor="end" y="3.2">2</text>
<line x1="322.98" y1="110.8" x2="322.98" y2="112.2" stroke="#5a5a5a" stroke-width="0.5"/>
<text transform="translate(323.48,114.3) rotate(-45)" font-size="6.35" class="g" text-anchor="end" y="3.2">3</text>
<line x1="330.75" y1="110.8" x2="330.75" y2="112.2" stroke="#5a5a5a" stroke-width="0.5"/>
<text transform="translate(331.25,114.3) rotate(-45)" font-size="6.35" class="g" text-anchor="end" y="3.2">4</text>
<line x1="338.51" y1="110.8" x2="338.51" y2="112.2" stroke="#5a5a5a" stroke-width="0.5"/>
<text transform="translate(339.01,114.3) rotate(-45)" font-size="6.35" class="g" text-anchor="end" y="3.2">5</text>
<line x1="346.27" y1="110.8" x2="346.27" y2="112.2" stroke="#5a5a5a" stroke-width="0.5"/>
<text transform="translate(346.77,114.3) rotate(-45)" font-size="6.35" class="g" text-anchor="end" y="3.2">6</text>
<line x1="354.04" y1="110.8" x2="354.04" y2="112.2" stroke="#5a5a5a" stroke-width="0.5"/>
<text transform="translate(354.54,114.3) rotate(-45)" font-size="6.35" class="g" text-anchor="end" y="3.2">7</text>
<line x1="361.8" y1="110.8" x2="361.8" y2="112.2" stroke="#5a5a5a" stroke-width="0.5"/>
<text transform="translate(362.3,114.3) rotate(-45)" font-size="6.35" class="g" text-anchor="end" y="3.2">8</text>
<line x1="369.56" y1="110.8" x2="369.56" y2="112.2" stroke="#5a5a5a" stroke-width="0.5"/>
<text transform="translate(370.06,114.3) rotate(-45)" font-size="6.35" class="g" text-anchor="end" y="3.2">9</text>
<line x1="377.33" y1="110.8" x2="377.33" y2="112.2" stroke="#5a5a5a" stroke-width="0.5"/>
<text transform="translate(377.83,114.3) rotate(-45)" font-size="6.35" class="g" text-anchor="end" y="3.2">10</text>
<line x1="385.09" y1="110.8" x2="385.09" y2="112.2" stroke="#5a5a5a" stroke-width="0.5"/>
<text transform="translate(385.59,114.3) rotate(-45)" font-size="6.35" class="g" text-anchor="end" y="3.2">11</text>
<line x1="392.85" y1="110.8" x2="392.85" y2="112.2" stroke="#5a5a5a" stroke-width="0.5"/>
<text transform="translate(393.35,114.3) rotate(-45)" font-size="6.35" class="g" text-anchor="end" y="3.2">12</text>
<line x1="400.62" y1="110.8" x2="400.62" y2="112.2" stroke="#5a5a5a" stroke-width="0.5"/>
<text transform="translate(401.12,114.3) rotate(-45)" font-size="6.35" class="g" text-anchor="end" y="3.2">13</text>
<line x1="408.38" y1="110.8" x2="408.38" y2="112.2" stroke="#5a5a5a" stroke-width="0.5"/>
<text transform="translate(408.88,114.3) rotate(-45)" font-size="6.35" class="g" text-anchor="end" y="3.2">14</text>
<line x1="416.15" y1="110.8" x2="416.15" y2="112.2" stroke="#5a5a5a" stroke-width="0.5"/>
<text transform="translate(416.65,114.3) rotate(-45)" font-size="6.35" class="g" text-anchor="end" y="3.2">15</text>
<line x1="423.91" y1="110.8" x2="423.91" y2="112.2" stroke="#5a5a5a" stroke-width="0.5"/>
<text transform="translate(424.41,114.3) rotate(-45)" font-size="6.35" class="g" text-anchor="end" y="3.2">16</text>
<line x1="431.67" y1="110.8" x2="431.67" y2="112.2" stroke="#5a5a5a" stroke-width="0.5"/>
<text transform="translate(432.17,114.3) rotate(-45)" font-size="6.35" class="g" text-anchor="end" y="3.2">17</text>
<line x1="439.44" y1="110.8" x2="439.44" y2="112.2" stroke="#5a5a5a" stroke-width="0.5"/>
<text transform="translate(439.94,114.3) rotate(-45)" font-size="6.35" class="g" text-anchor="end" y="3.2">18</text>
<line x1="447.2" y1="110.8" x2="447.2" y2="112.2" stroke="#5a5a5a" stroke-width="0.5"/>
<text transform="translate(447.7,114.3) rotate(-45)" font-size="6.35" class="g" text-anchor="end" y="3.2">19</text>
<line x1="454.96" y1="110.8" x2="454.96" y2="112.2" stroke="#5a5a5a" stroke-width="0.5"/>
<text transform="translate(455.46,114.3) rotate(-45)" font-size="6.35" class="g" text-anchor="end" y="3.2">20</text>
<line x1="462.73" y1="110.8" x2="462.73" y2="112.2" stroke="#5a5a5a" stroke-width="0.5"/>
<text transform="translate(463.23,114.3) rotate(-45)" font-size="6.35" class="g" text-anchor="end" y="3.2">21</text>
<line x1="470.49" y1="110.8" x2="470.49" y2="112.2" stroke="#5a5a5a" stroke-width="0.5"/>
<text transform="translate(470.99,114.3) rotate(-45)" font-size="6.35" class="g" text-anchor="end" y="3.2">22</text>
<line x1="478.25" y1="110.8" x2="478.25" y2="112.2" stroke="#5a5a5a" stroke-width="0.5"/>
<text transform="translate(478.75,114.3) rotate(-45)" font-size="6.35" class="g" text-anchor="end" y="3.2">X</text>
<line x1="486.02" y1="110.8" x2="486.02" y2="112.2" stroke="#5a5a5a" stroke-width="0.5"/>
<text transform="translate(486.52,114.3) rotate(-45)" font-size="6.35" class="g" text-anchor="end" y="3.2">Y</text>
<line x1="493.78" y1="110.8" x2="493.78" y2="112.2" stroke="#5a5a5a" stroke-width="0.5"/>
<text transform="translate(494.28,114.3) rotate(-45)" font-size="6.35" class="g" text-anchor="end" y="3.2">marker</text>
<line x1="501.54" y1="110.8" x2="501.54" y2="112.2" stroke="#5a5a5a" stroke-width="0.5"/>
<text transform="translate(502.04,114.3) rotate(-45)" font-size="6.35" class="g" text-anchor="end" y="3.2">dmin</text>
<text transform="translate(294.3,61.85) rotate(-90)" font-size="8.8" text-anchor="middle">Frequency of Abnormality</text>
<text x="404.4" y="133.1" font-size="8.8" text-anchor="middle">Chromosome</text>
<text class="p" x="279.8" y="11.1" font-size="9.6">B</text>
<text x="512.4" y="21.6" font-size="6.55">Abnormality</text>
<rect x="512.6" y="25.4" width="5.8" height="6.34" fill="#F8766D" stroke="#262626" stroke-width="0.35"/>
<text class="l" x="521.8" y="30.98" font-size="6.5">–</text>
<rect x="512.6" y="31.74" width="5.8" height="6.34" fill="#FF8C00" stroke="#262626" stroke-width="0.35"/>
<text class="l" x="521.8" y="37.31" font-size="6.5">+</text>
<rect x="512.6" y="38.08" width="5.8" height="6.34" fill="#D2A100" stroke="#262626" stroke-width="0.35"/>
<text class="l" x="521.8" y="43.66" font-size="6.5">add</text>
<rect x="512.6" y="44.42" width="5.8" height="6.34" fill="#8DB600" stroke="#262626" stroke-width="0.35"/>
<text class="l" x="521.8" y="50" font-size="6.5">del</text>
<rect x="512.6" y="50.76" width="5.8" height="6.34" fill="#00BA00" stroke="#262626" stroke-width="0.35"/>
<text class="l" x="521.8" y="56.34" font-size="6.5">der</text>
<rect x="512.6" y="57.1" width="5.8" height="6.34" fill="#00BF7D" stroke="#262626" stroke-width="0.35"/>
<text class="l" x="521.8" y="62.67" font-size="6.5">dic</text>
<rect x="512.6" y="63.44" width="5.8" height="6.34" fill="#00BFB2" stroke="#262626" stroke-width="0.35"/>
<text class="l" x="521.8" y="69.02" font-size="6.5">dup</text>
<rect x="512.6" y="69.78" width="5.8" height="6.34" fill="#00BBDA" stroke="#262626" stroke-width="0.35"/>
<text class="l" x="521.8" y="75.36" font-size="6.5">i</text>
<rect x="512.6" y="76.12" width="5.8" height="6.34" fill="#00ABF5" stroke="#262626" stroke-width="0.35"/>
<text class="l" x="521.8" y="81.7" font-size="6.5">ins</text>
<rect x="512.6" y="82.46" width="5.8" height="6.34" fill="#8B93FF" stroke="#262626" stroke-width="0.35"/>
<text class="l" x="521.8" y="88.04" font-size="6.5">inv</text>
<rect x="512.6" y="88.8" width="5.8" height="6.34" fill="#E36EF6" stroke="#262626" stroke-width="0.35"/>
<text class="l" x="521.8" y="94.38" font-size="6.5">iso</text>
<rect x="512.6" y="95.14" width="5.8" height="6.34" fill="#FFC1C1" stroke="#262626" stroke-width="0.35"/>
<text class="l" x="521.8" y="100.71" font-size="6.5">r(chr)</text>
<rect x="512.6" y="101.48" width="5.8" height="6.34" fill="#FF5FB0" stroke="#262626" stroke-width="0.35"/>
<text class="l" x="521.8" y="107.05" font-size="6.5">t</text>
<line x1="29.62" y1="243.95" x2="230.83" y2="243.95" stroke="#9a9a9a" stroke-width="0.6"/>
<rect x="29.62" y="224.04" width="6.99" height="19.76" fill="#FF5FB0"/>
<rect x="29.62" y="204.28" width="6.99" height="19.76" fill="#00BA00"/>
<rect x="29.62" y="184.52" width="6.99" height="19.76" fill="#FF8C00"/>
<rect x="29.62" y="224.04" width="6.99" height="19.76" fill="none" stroke="#262626" stroke-width="0.35"/>
<rect x="29.62" y="204.28" width="6.99" height="19.76" fill="none" stroke="#262626" stroke-width="0.35"/>
<rect x="29.62" y="184.52" width="6.99" height="19.76" fill="none" stroke="#262626" stroke-width="0.35"/>
<rect x="37.38" y="224.04" width="6.99" height="19.76" fill="#FF5FB0"/>
<rect x="37.38" y="224.04" width="6.99" height="19.76" fill="none" stroke="#262626" stroke-width="0.35"/>
<rect x="45.15" y="224.04" width="6.99" height="19.76" fill="#D2A100"/>
<rect x="45.15" y="224.04" width="6.99" height="19.76" fill="none" stroke="#262626" stroke-width="0.35"/>
<rect x="52.92" y="224.04" width="6.99" height="19.76" fill="#D2A100"/>
<rect x="52.92" y="224.04" width="6.99" height="19.76" fill="none" stroke="#262626" stroke-width="0.35"/>
<rect x="60.69" y="224.04" width="6.99" height="19.76" fill="#8DB600"/>
<rect x="60.69" y="184.52" width="6.99" height="39.52" fill="#D2A100"/>
<rect x="60.69" y="145" width="6.99" height="39.52" fill="#F8766D"/>
<rect x="60.69" y="224.04" width="6.99" height="19.76" fill="none" stroke="#262626" stroke-width="0.35"/>
<rect x="60.69" y="184.52" width="6.99" height="39.52" fill="none" stroke="#262626" stroke-width="0.35"/>
<rect x="60.69" y="145" width="6.99" height="39.52" fill="none" stroke="#262626" stroke-width="0.35"/>
<rect x="68.46" y="224.04" width="6.99" height="19.76" fill="#FFC1C1"/>
<rect x="68.46" y="204.28" width="6.99" height="19.76" fill="#D2A100"/>
<rect x="68.46" y="224.04" width="6.99" height="19.76" fill="none" stroke="#262626" stroke-width="0.35"/>
<rect x="68.46" y="204.28" width="6.99" height="19.76" fill="none" stroke="#262626" stroke-width="0.35"/>
<rect x="76.23" y="224.04" width="6.99" height="19.76" fill="#00BA00"/>
<rect x="76.23" y="204.28" width="6.99" height="19.76" fill="#8DB600"/>
<rect x="76.23" y="184.52" width="6.99" height="19.76" fill="#D2A100"/>
<rect x="76.23" y="164.76" width="6.99" height="19.76" fill="#FF8C00"/>
<rect x="76.23" y="145" width="6.99" height="19.76" fill="#F8766D"/>
<rect x="76.23" y="224.04" width="6.99" height="19.76" fill="none" stroke="#262626" stroke-width="0.35"/>
<rect x="76.23" y="204.28" width="6.99" height="19.76" fill="none" stroke="#262626" stroke-width="0.35"/>
<rect x="76.23" y="184.52" width="6.99" height="19.76" fill="none" stroke="#262626" stroke-width="0.35"/>
<rect x="76.23" y="164.76" width="6.99" height="19.76" fill="none" stroke="#262626" stroke-width="0.35"/>
<rect x="76.23" y="145" width="6.99" height="19.76" fill="none" stroke="#262626" stroke-width="0.35"/>
<rect x="84" y="224.04" width="6.99" height="19.76" fill="#E36EF6"/>
<rect x="84" y="204.28" width="6.99" height="19.76" fill="#00BA00"/>
<rect x="84" y="164.76" width="6.99" height="39.52" fill="#FF8C00"/>
<rect x="84" y="224.04" width="6.99" height="19.76" fill="none" stroke="#262626" stroke-width="0.35"/>
<rect x="84" y="204.28" width="6.99" height="19.76" fill="none" stroke="#262626" stroke-width="0.35"/>
<rect x="84" y="164.76" width="6.99" height="39.52" fill="none" stroke="#262626" stroke-width="0.35"/>
<line x1="91.77" y1="243.9" x2="98.76" y2="243.9" stroke="#555" stroke-width="0.7"/>
<line x1="99.54" y1="243.9" x2="106.53" y2="243.9" stroke="#555" stroke-width="0.7"/>
<rect x="107.31" y="224.04" width="6.99" height="19.76" fill="#00BFB2"/>
<rect x="107.31" y="204.28" width="6.99" height="19.76" fill="#8DB600"/>
<rect x="107.31" y="184.52" width="6.99" height="19.76" fill="#D2A100"/>
<rect x="107.31" y="164.76" width="6.99" height="19.76" fill="#FF8C00"/>
<rect x="107.31" y="224.04" width="6.99" height="19.76" fill="none" stroke="#262626" stroke-width="0.35"/>
<rect x="107.31" y="204.28" width="6.99" height="19.76" fill="none" stroke="#262626" stroke-width="0.35"/>
<rect x="107.31" y="184.52" width="6.99" height="19.76" fill="none" stroke="#262626" stroke-width="0.35"/>
<rect x="107.31" y="164.76" width="6.99" height="19.76" fill="none" stroke="#262626" stroke-width="0.35"/>
<rect x="115.08" y="224.04" width="6.99" height="19.76" fill="#8DB600"/>
<rect x="115.08" y="204.28" width="6.99" height="19.76" fill="#F8766D"/>
<rect x="115.08" y="224.04" width="6.99" height="19.76" fill="none" stroke="#262626" stroke-width="0.35"/>
<rect x="115.08" y="204.28" width="6.99" height="19.76" fill="none" stroke="#262626" stroke-width="0.35"/>
<line x1="122.84" y1="243.9" x2="129.84" y2="243.9" stroke="#555" stroke-width="0.7"/>
<rect x="130.61" y="224.04" width="6.99" height="19.76" fill="#D2A100"/>
<rect x="130.61" y="224.04" width="6.99" height="19.76" fill="none" stroke="#262626" stroke-width="0.35"/>
<line x1="138.38" y1="243.9" x2="145.37" y2="243.9" stroke="#555" stroke-width="0.7"/>
<rect x="146.15" y="224.04" width="6.99" height="19.76" fill="#FF5FB0"/>
<rect x="146.15" y="184.52" width="6.99" height="39.52" fill="#00BA00"/>
<rect x="146.15" y="164.76" width="6.99" height="19.76" fill="#D2A100"/>
<rect x="146.15" y="145" width="6.99" height="19.76" fill="#F8766D"/>
<rect x="146.15" y="224.04" width="6.99" height="19.76" fill="none" stroke="#262626" stroke-width="0.35"/>
<rect x="146.15" y="184.52" width="6.99" height="39.52" fill="none" stroke="#262626" stroke-width="0.35"/>
<rect x="146.15" y="164.76" width="6.99" height="19.76" fill="none" stroke="#262626" stroke-width="0.35"/>
<rect x="146.15" y="145" width="6.99" height="19.76" fill="none" stroke="#262626" stroke-width="0.35"/>
<rect x="153.92" y="224.04" width="6.99" height="19.76" fill="#FF5FB0"/>
<rect x="153.92" y="204.28" width="6.99" height="19.76" fill="#00BBDA"/>
<rect x="153.92" y="184.52" width="6.99" height="19.76" fill="#D2A100"/>
<rect x="153.92" y="164.76" width="6.99" height="19.76" fill="#FF8C00"/>
<rect x="153.92" y="145" width="6.99" height="19.76" fill="#F8766D"/>
<rect x="153.92" y="224.04" width="6.99" height="19.76" fill="none" stroke="#262626" stroke-width="0.35"/>
<rect x="153.92" y="204.28" width="6.99" height="19.76" fill="none" stroke="#262626" stroke-width="0.35"/>
<rect x="153.92" y="184.52" width="6.99" height="19.76" fill="none" stroke="#262626" stroke-width="0.35"/>
<rect x="153.92" y="164.76" width="6.99" height="19.76" fill="none" stroke="#262626" stroke-width="0.35"/>
<rect x="153.92" y="145" width="6.99" height="19.76" fill="none" stroke="#262626" stroke-width="0.35"/>
<rect x="161.69" y="224.04" width="6.99" height="19.76" fill="#D2A100"/>
<rect x="161.69" y="184.52" width="6.99" height="39.52" fill="#FF8C00"/>
<rect x="161.69" y="164.76" width="6.99" height="19.76" fill="#F8766D"/>
<rect x="161.69" y="224.04" width="6.99" height="19.76" fill="none" stroke="#262626" stroke-width="0.35"/>
<rect x="161.69" y="184.52" width="6.99" height="39.52" fill="none" stroke="#262626" stroke-width="0.35"/>
<rect x="161.69" y="164.76" width="6.99" height="19.76" fill="none" stroke="#262626" stroke-width="0.35"/>
<rect x="169.46" y="204.28" width="6.99" height="39.52" fill="#FF8C00"/>
<rect x="169.46" y="204.28" width="6.99" height="39.52" fill="none" stroke="#262626" stroke-width="0.35"/>
<rect x="177.23" y="224.04" width="6.99" height="19.76" fill="#8DB600"/>
<rect x="177.23" y="204.28" width="6.99" height="19.76" fill="#D2A100"/>
<rect x="177.23" y="184.52" width="6.99" height="19.76" fill="#F8766D"/>
<rect x="177.23" y="224.04" width="6.99" height="19.76" fill="none" stroke="#262626" stroke-width="0.35"/>
<rect x="177.23" y="204.28" width="6.99" height="19.76" fill="none" stroke="#262626" stroke-width="0.35"/>
<rect x="177.23" y="184.52" width="6.99" height="19.76" fill="none" stroke="#262626" stroke-width="0.35"/>
<rect x="185" y="204.28" width="6.99" height="39.52" fill="#FF5FB0"/>
<rect x="185" y="184.52" width="6.99" height="19.76" fill="#00BA00"/>
<rect x="185" y="164.76" width="6.99" height="19.76" fill="#D2A100"/>
<rect x="185" y="145" width="6.99" height="19.76" fill="#F8766D"/>
<rect x="185" y="204.28" width="6.99" height="39.52" fill="none" stroke="#262626" stroke-width="0.35"/>
<rect x="185" y="184.52" width="6.99" height="19.76" fill="none" stroke="#262626" stroke-width="0.35"/>
<rect x="185" y="164.76" width="6.99" height="19.76" fill="none" stroke="#262626" stroke-width="0.35"/>
<rect x="185" y="145" width="6.99" height="19.76" fill="none" stroke="#262626" stroke-width="0.35"/>
<rect x="192.77" y="224.04" width="6.99" height="19.76" fill="#FF8C00"/>
<rect x="192.77" y="224.04" width="6.99" height="19.76" fill="none" stroke="#262626" stroke-width="0.35"/>
<rect x="200.54" y="224.04" width="6.99" height="19.76" fill="#D2A100"/>
<rect x="200.54" y="224.04" width="6.99" height="19.76" fill="none" stroke="#262626" stroke-width="0.35"/>
<line x1="208.3" y1="243.9" x2="215.3" y2="243.9" stroke="#555" stroke-width="0.7"/>
<rect x="216.07" y="145" width="6.99" height="98.8" fill="#FF8C00"/>
<rect x="216.07" y="145" width="6.99" height="98.8" fill="none" stroke="#262626" stroke-width="0.35"/>
<line x1="223.84" y1="243.9" x2="230.83" y2="243.9" stroke="#555" stroke-width="0.7"/>
<line x1="28.5" y1="144.7" x2="28.5" y2="244.1" stroke="#5a5a5a" stroke-width="0.75"/>
<line x1="27" y1="243.8" x2="28.5" y2="243.8" stroke="#5a5a5a" stroke-width="0.5"/>
<text x="26.6" y="246.21" font-size="6.35" class="g" text-anchor="end">0</text>
<line x1="27" y1="224.04" x2="28.5" y2="224.04" stroke="#5a5a5a" stroke-width="0.5"/>
<text x="26.6" y="226.45" font-size="6.35" class="g" text-anchor="end">1</text>
<line x1="27" y1="204.28" x2="28.5" y2="204.28" stroke="#5a5a5a" stroke-width="0.5"/>
<text x="26.6" y="206.69" font-size="6.35" class="g" text-anchor="end">2</text>
<line x1="27" y1="184.52" x2="28.5" y2="184.52" stroke="#5a5a5a" stroke-width="0.5"/>
<text x="26.6" y="186.93" font-size="6.35" class="g" text-anchor="end">3</text>
<line x1="27" y1="164.76" x2="28.5" y2="164.76" stroke="#5a5a5a" stroke-width="0.5"/>
<text x="26.6" y="167.17" font-size="6.35" class="g" text-anchor="end">4</text>
<line x1="27" y1="145" x2="28.5" y2="145" stroke="#5a5a5a" stroke-width="0.5"/>
<text x="26.6" y="147.41" font-size="6.35" class="g" text-anchor="end">5</text>
<line x1="33.11" y1="243.8" x2="33.11" y2="245.2" stroke="#5a5a5a" stroke-width="0.5"/>
<text transform="translate(33.61,247.3) rotate(-45)" font-size="6.35" class="g" text-anchor="end" y="3.2">1</text>
<line x1="40.88" y1="243.8" x2="40.88" y2="245.2" stroke="#5a5a5a" stroke-width="0.5"/>
<text transform="translate(41.38,247.3) rotate(-45)" font-size="6.35" class="g" text-anchor="end" y="3.2">2</text>
<line x1="48.65" y1="243.8" x2="48.65" y2="245.2" stroke="#5a5a5a" stroke-width="0.5"/>
<text transform="translate(49.15,247.3) rotate(-45)" font-size="6.35" class="g" text-anchor="end" y="3.2">3</text>
<line x1="56.42" y1="243.8" x2="56.42" y2="245.2" stroke="#5a5a5a" stroke-width="0.5"/>
<text transform="translate(56.92,247.3) rotate(-45)" font-size="6.35" class="g" text-anchor="end" y="3.2">4</text>
<line x1="64.19" y1="243.8" x2="64.19" y2="245.2" stroke="#5a5a5a" stroke-width="0.5"/>
<text transform="translate(64.69,247.3) rotate(-45)" font-size="6.35" class="g" text-anchor="end" y="3.2">5</text>
<line x1="71.96" y1="243.8" x2="71.96" y2="245.2" stroke="#5a5a5a" stroke-width="0.5"/>
<text transform="translate(72.46,247.3) rotate(-45)" font-size="6.35" class="g" text-anchor="end" y="3.2">6</text>
<line x1="79.73" y1="243.8" x2="79.73" y2="245.2" stroke="#5a5a5a" stroke-width="0.5"/>
<text transform="translate(80.23,247.3) rotate(-45)" font-size="6.35" class="g" text-anchor="end" y="3.2">7</text>
<line x1="87.5" y1="243.8" x2="87.5" y2="245.2" stroke="#5a5a5a" stroke-width="0.5"/>
<text transform="translate(88,247.3) rotate(-45)" font-size="6.35" class="g" text-anchor="end" y="3.2">8</text>
<line x1="95.26" y1="243.8" x2="95.26" y2="245.2" stroke="#5a5a5a" stroke-width="0.5"/>
<text transform="translate(95.76,247.3) rotate(-45)" font-size="6.35" class="g" text-anchor="end" y="3.2">9</text>
<line x1="103.03" y1="243.8" x2="103.03" y2="245.2" stroke="#5a5a5a" stroke-width="0.5"/>
<text transform="translate(103.53,247.3) rotate(-45)" font-size="6.35" class="g" text-anchor="end" y="3.2">10</text>
<line x1="110.8" y1="243.8" x2="110.8" y2="245.2" stroke="#5a5a5a" stroke-width="0.5"/>
<text transform="translate(111.3,247.3) rotate(-45)" font-size="6.35" class="g" text-anchor="end" y="3.2">11</text>
<line x1="118.57" y1="243.8" x2="118.57" y2="245.2" stroke="#5a5a5a" stroke-width="0.5"/>
<text transform="translate(119.07,247.3) rotate(-45)" font-size="6.35" class="g" text-anchor="end" y="3.2">12</text>
<line x1="126.34" y1="243.8" x2="126.34" y2="245.2" stroke="#5a5a5a" stroke-width="0.5"/>
<text transform="translate(126.84,247.3) rotate(-45)" font-size="6.35" class="g" text-anchor="end" y="3.2">13</text>
<line x1="134.11" y1="243.8" x2="134.11" y2="245.2" stroke="#5a5a5a" stroke-width="0.5"/>
<text transform="translate(134.61,247.3) rotate(-45)" font-size="6.35" class="g" text-anchor="end" y="3.2">14</text>
<line x1="141.88" y1="243.8" x2="141.88" y2="245.2" stroke="#5a5a5a" stroke-width="0.5"/>
<text transform="translate(142.38,247.3) rotate(-45)" font-size="6.35" class="g" text-anchor="end" y="3.2">15</text>
<line x1="149.65" y1="243.8" x2="149.65" y2="245.2" stroke="#5a5a5a" stroke-width="0.5"/>
<text transform="translate(150.15,247.3) rotate(-45)" font-size="6.35" class="g" text-anchor="end" y="3.2">16</text>
<line x1="157.42" y1="243.8" x2="157.42" y2="245.2" stroke="#5a5a5a" stroke-width="0.5"/>
<text transform="translate(157.92,247.3) rotate(-45)" font-size="6.35" class="g" text-anchor="end" y="3.2">17</text>
<line x1="165.19" y1="243.8" x2="165.19" y2="245.2" stroke="#5a5a5a" stroke-width="0.5"/>
<text transform="translate(165.69,247.3) rotate(-45)" font-size="6.35" class="g" text-anchor="end" y="3.2">18</text>
<line x1="172.95" y1="243.8" x2="172.95" y2="245.2" stroke="#5a5a5a" stroke-width="0.5"/>
<text transform="translate(173.45,247.3) rotate(-45)" font-size="6.35" class="g" text-anchor="end" y="3.2">19</text>
<line x1="180.72" y1="243.8" x2="180.72" y2="245.2" stroke="#5a5a5a" stroke-width="0.5"/>
<text transform="translate(181.22,247.3) rotate(-45)" font-size="6.35" class="g" text-anchor="end" y="3.2">20</text>
<line x1="188.49" y1="243.8" x2="188.49" y2="245.2" stroke="#5a5a5a" stroke-width="0.5"/>
<text transform="translate(188.99,247.3) rotate(-45)" font-size="6.35" class="g" text-anchor="end" y="3.2">21</text>
<line x1="196.26" y1="243.8" x2="196.26" y2="245.2" stroke="#5a5a5a" stroke-width="0.5"/>
<text transform="translate(196.76,247.3) rotate(-45)" font-size="6.35" class="g" text-anchor="end" y="3.2">22</text>
<line x1="204.03" y1="243.8" x2="204.03" y2="245.2" stroke="#5a5a5a" stroke-width="0.5"/>
<text transform="translate(204.53,247.3) rotate(-45)" font-size="6.35" class="g" text-anchor="end" y="3.2">X</text>
<line x1="211.8" y1="243.8" x2="211.8" y2="245.2" stroke="#5a5a5a" stroke-width="0.5"/>
<text transform="translate(212.3,247.3) rotate(-45)" font-size="6.35" class="g" text-anchor="end" y="3.2">Y</text>
<line x1="219.57" y1="243.8" x2="219.57" y2="245.2" stroke="#5a5a5a" stroke-width="0.5"/>
<text transform="translate(220.07,247.3) rotate(-45)" font-size="6.35" class="g" text-anchor="end" y="3.2">marker</text>
<line x1="227.34" y1="243.8" x2="227.34" y2="245.2" stroke="#5a5a5a" stroke-width="0.5"/>
<text transform="translate(227.84,247.3) rotate(-45)" font-size="6.35" class="g" text-anchor="end" y="3.2">dmin</text>
<text transform="translate(20.5,194.15) rotate(-90)" font-size="8.8" text-anchor="middle">Frequency of Abnormality</text>
<text x="130.15" y="265.9" font-size="8.7" text-anchor="middle">Chromosome</text>
<text class="p" x="4" y="135" font-size="9.6">C</text>
<text x="238.2" y="154.3" font-size="6.55">Abnormality</text>
<rect x="238.4" y="158.2" width="5.8" height="6.34" fill="#F8766D" stroke="#262626" stroke-width="0.35"/>
<text class="l" x="247.6" y="163.77" font-size="6.5">–</text>
<rect x="238.4" y="164.54" width="5.8" height="6.34" fill="#FF8C00" stroke="#262626" stroke-width="0.35"/>
<text class="l" x="247.6" y="170.11" font-size="6.5">+</text>
<rect x="238.4" y="170.88" width="5.8" height="6.34" fill="#D2A100" stroke="#262626" stroke-width="0.35"/>
<text class="l" x="247.6" y="176.45" font-size="6.5">add</text>
<rect x="238.4" y="177.22" width="5.8" height="6.34" fill="#8DB600" stroke="#262626" stroke-width="0.35"/>
<text class="l" x="247.6" y="182.79" font-size="6.5">del</text>
<rect x="238.4" y="183.56" width="5.8" height="6.34" fill="#00BA00" stroke="#262626" stroke-width="0.35"/>
<text class="l" x="247.6" y="189.13" font-size="6.5">der</text>
<rect x="238.4" y="189.9" width="5.8" height="6.34" fill="#00BF7D" stroke="#262626" stroke-width="0.35"/>
<text class="l" x="247.6" y="195.47" font-size="6.5">dic</text>
<rect x="238.4" y="196.24" width="5.8" height="6.34" fill="#00BFB2" stroke="#262626" stroke-width="0.35"/>
<text class="l" x="247.6" y="201.81" font-size="6.5">dup</text>
<rect x="238.4" y="202.58" width="5.8" height="6.34" fill="#00BBDA" stroke="#262626" stroke-width="0.35"/>
<text class="l" x="247.6" y="208.15" font-size="6.5">i</text>
<rect x="238.4" y="208.92" width="5.8" height="6.34" fill="#00ABF5" stroke="#262626" stroke-width="0.35"/>
<text class="l" x="247.6" y="214.49" font-size="6.5">ins</text>
<rect x="238.4" y="215.26" width="5.8" height="6.34" fill="#8B93FF" stroke="#262626" stroke-width="0.35"/>
<text class="l" x="247.6" y="220.83" font-size="6.5">inv</text>
<rect x="238.4" y="221.6" width="5.8" height="6.34" fill="#E36EF6" stroke="#262626" stroke-width="0.35"/>
<text class="l" x="247.6" y="227.17" font-size="6.5">iso</text>
<rect x="238.4" y="227.94" width="5.8" height="6.34" fill="#FFC1C1" stroke="#262626" stroke-width="0.35"/>
<text class="l" x="247.6" y="233.51" font-size="6.5">r(chr)</text>
<rect x="238.4" y="234.28" width="5.8" height="6.34" fill="#FF5FB0" stroke="#262626" stroke-width="0.35"/>
<text class="l" x="247.6" y="239.85" font-size="6.5">t</text>
<line x1="305.14" y1="244.15" x2="502.56" y2="244.15" stroke="#9a9a9a" stroke-width="0.6"/>
<rect x="305.14" y="224.3" width="6.86" height="19.7" fill="#FF5FB0"/>
<rect x="305.14" y="194.75" width="6.86" height="29.55" fill="#00BA00"/>
<rect x="305.14" y="184.9" width="6.86" height="9.85" fill="#8DB600"/>
<rect x="305.14" y="165.2" width="6.86" height="19.7" fill="#FF8C00"/>
<rect x="305.14" y="155.35" width="6.86" height="9.85" fill="#F8766D"/>
<rect x="305.14" y="224.3" width="6.86" height="19.7" fill="none" stroke="#262626" stroke-width="0.35"/>
<rect x="305.14" y="194.75" width="6.86" height="29.55" fill="none" stroke="#262626" stroke-width="0.35"/>
<rect x="305.14" y="184.9" width="6.86" height="9.85" fill="none" stroke="#262626" stroke-width="0.35"/>
<rect x="305.14" y="165.2" width="6.86" height="19.7" fill="none" stroke="#262626" stroke-width="0.35"/>
<rect x="305.14" y="155.35" width="6.86" height="9.85" fill="none" stroke="#262626" stroke-width="0.35"/>
<rect x="312.77" y="234.15" width="6.86" height="9.85" fill="#FF5FB0"/>
<rect x="312.77" y="224.3" width="6.86" height="9.85" fill="#FFC1C1"/>
<rect x="312.77" y="234.15" width="6.86" height="9.85" fill="none" stroke="#262626" stroke-width="0.35"/>
<rect x="312.77" y="224.3" width="6.86" height="9.85" fill="none" stroke="#262626" stroke-width="0.35"/>
<rect x="320.39" y="234.15" width="6.86" height="9.85" fill="#FFC1C1"/>
<rect x="320.39" y="224.3" width="6.86" height="9.85" fill="#00BA00"/>
<rect x="320.39" y="234.15" width="6.86" height="9.85" fill="none" stroke="#262626" stroke-width="0.35"/>
<rect x="320.39" y="224.3" width="6.86" height="9.85" fill="none" stroke="#262626" stroke-width="0.35"/>
<rect x="328.01" y="234.15" width="6.86" height="9.85" fill="#FF5FB0"/>
<rect x="328.01" y="224.3" width="6.86" height="9.85" fill="#D2A100"/>
<rect x="328.01" y="214.45" width="6.86" height="9.85" fill="#FF8C00"/>
<rect x="328.01" y="234.15" width="6.86" height="9.85" fill="none" stroke="#262626" stroke-width="0.35"/>
<rect x="328.01" y="224.3" width="6.86" height="9.85" fill="none" stroke="#262626" stroke-width="0.35"/>
<rect x="328.01" y="214.45" width="6.86" height="9.85" fill="none" stroke="#262626" stroke-width="0.35"/>
<rect x="335.63" y="234.15" width="6.86" height="9.85" fill="#FF5FB0"/>
<rect x="335.63" y="224.3" width="6.86" height="9.85" fill="#00BA00"/>
<rect x="335.63" y="204.6" width="6.86" height="19.7" fill="#8DB600"/>
<rect x="335.63" y="184.9" width="6.86" height="19.7" fill="#D2A100"/>
<rect x="335.63" y="234.15" width="6.86" height="9.85" fill="none" stroke="#262626" stroke-width="0.35"/>
<rect x="335.63" y="224.3" width="6.86" height="9.85" fill="none" stroke="#262626" stroke-width="0.35"/>
<rect x="335.63" y="204.6" width="6.86" height="19.7" fill="none" stroke="#262626" stroke-width="0.35"/>
<rect x="335.63" y="184.9" width="6.86" height="19.7" fill="none" stroke="#262626" stroke-width="0.35"/>
<rect x="343.25" y="224.3" width="6.86" height="19.7" fill="#FFC1C1"/>
<rect x="343.25" y="224.3" width="6.86" height="19.7" fill="none" stroke="#262626" stroke-width="0.35"/>
<rect x="350.88" y="234.15" width="6.86" height="9.85" fill="#FF5FB0"/>
<rect x="350.88" y="214.45" width="6.86" height="19.7" fill="#FFC1C1"/>
<rect x="350.88" y="184.9" width="6.86" height="29.55" fill="#8DB600"/>
<rect x="350.88" y="145.5" width="6.86" height="39.4" fill="#F8766D"/>
<rect x="350.88" y="234.15" width="6.86" height="9.85" fill="none" stroke="#262626" stroke-width="0.35"/>
<rect x="350.88" y="214.45" width="6.86" height="19.7" fill="none" stroke="#262626" stroke-width="0.35"/>
<rect x="350.88" y="184.9" width="6.86" height="29.55" fill="none" stroke="#262626" stroke-width="0.35"/>
<rect x="350.88" y="145.5" width="6.86" height="39.4" fill="none" stroke="#262626" stroke-width="0.35"/>
<rect x="358.5" y="224.3" width="6.86" height="19.7" fill="#FF8C00"/>
<rect x="358.5" y="224.3" width="6.86" height="19.7" fill="none" stroke="#262626" stroke-width="0.35"/>
<rect x="366.12" y="224.3" width="6.86" height="19.7" fill="#FF5FB0"/>
<rect x="366.12" y="214.45" width="6.86" height="9.85" fill="#D2A100"/>
<rect x="366.12" y="224.3" width="6.86" height="19.7" fill="none" stroke="#262626" stroke-width="0.35"/>
<rect x="366.12" y="214.45" width="6.86" height="9.85" fill="none" stroke="#262626" stroke-width="0.35"/>
<line x1="373.74" y1="244.1" x2="380.6" y2="244.1" stroke="#555" stroke-width="0.7"/>
<rect x="381.36" y="234.15" width="6.86" height="9.85" fill="#FF5FB0"/>
<rect x="381.36" y="224.3" width="6.86" height="9.85" fill="#8B93FF"/>
<rect x="381.36" y="214.45" width="6.86" height="9.85" fill="#00BFB2"/>
<rect x="381.36" y="194.75" width="6.86" height="19.7" fill="#8DB600"/>
<rect x="381.36" y="184.9" width="6.86" height="9.85" fill="#FF8C00"/>
<rect x="381.36" y="234.15" width="6.86" height="9.85" fill="none" stroke="#262626" stroke-width="0.35"/>
<rect x="381.36" y="224.3" width="6.86" height="9.85" fill="none" stroke="#262626" stroke-width="0.35"/>
<rect x="381.36" y="214.45" width="6.86" height="9.85" fill="none" stroke="#262626" stroke-width="0.35"/>
<rect x="381.36" y="194.75" width="6.86" height="19.7" fill="none" stroke="#262626" stroke-width="0.35"/>
<rect x="381.36" y="184.9" width="6.86" height="9.85" fill="none" stroke="#262626" stroke-width="0.35"/>
<rect x="388.99" y="234.15" width="6.86" height="9.85" fill="#FF5FB0"/>
<rect x="388.99" y="234.15" width="6.86" height="9.85" fill="none" stroke="#262626" stroke-width="0.35"/>
<rect x="396.61" y="234.15" width="6.86" height="9.85" fill="#00BA00"/>
<rect x="396.61" y="224.3" width="6.86" height="9.85" fill="#F8766D"/>
<rect x="396.61" y="234.15" width="6.86" height="9.85" fill="none" stroke="#262626" stroke-width="0.35"/>
<rect x="396.61" y="224.3" width="6.86" height="9.85" fill="none" stroke="#262626" stroke-width="0.35"/>
<rect x="404.23" y="234.15" width="6.86" height="9.85" fill="#F8766D"/>
<rect x="404.23" y="234.15" width="6.86" height="9.85" fill="none" stroke="#262626" stroke-width="0.35"/>
<rect x="411.85" y="234.15" width="6.86" height="9.85" fill="#F8766D"/>
<rect x="411.85" y="234.15" width="6.86" height="9.85" fill="none" stroke="#262626" stroke-width="0.35"/>
<rect x="419.48" y="234.15" width="6.86" height="9.85" fill="#00BA00"/>
<rect x="419.48" y="234.15" width="6.86" height="9.85" fill="none" stroke="#262626" stroke-width="0.35"/>
<rect x="427.1" y="234.15" width="6.86" height="9.85" fill="#FF5FB0"/>
<rect x="427.1" y="224.3" width="6.86" height="9.85" fill="#00BBDA"/>
<rect x="427.1" y="214.45" width="6.86" height="9.85" fill="#D2A100"/>
<rect x="427.1" y="194.75" width="6.86" height="19.7" fill="#FF8C00"/>
<rect x="427.1" y="234.15" width="6.86" height="9.85" fill="none" stroke="#262626" stroke-width="0.35"/>
<rect x="427.1" y="224.3" width="6.86" height="9.85" fill="none" stroke="#262626" stroke-width="0.35"/>
<rect x="427.1" y="214.45" width="6.86" height="9.85" fill="none" stroke="#262626" stroke-width="0.35"/>
<rect x="427.1" y="194.75" width="6.86" height="19.7" fill="none" stroke="#262626" stroke-width="0.35"/>
<rect x="434.72" y="234.15" width="6.86" height="9.85" fill="#FFC1C1"/>
<rect x="434.72" y="214.45" width="6.86" height="19.7" fill="#FF8C00"/>
<rect x="434.72" y="194.75" width="6.86" height="19.7" fill="#F8766D"/>
<rect x="434.72" y="234.15" width="6.86" height="9.85" fill="none" stroke="#262626" stroke-width="0.35"/>
<rect x="434.72" y="214.45" width="6.86" height="19.7" fill="none" stroke="#262626" stroke-width="0.35"/>
<rect x="434.72" y="194.75" width="6.86" height="19.7" fill="none" stroke="#262626" stroke-width="0.35"/>
<rect x="442.34" y="224.3" width="6.86" height="19.7" fill="#FF8C00"/>
<rect x="442.34" y="214.45" width="6.86" height="9.85" fill="#F8766D"/>
<rect x="442.34" y="224.3" width="6.86" height="19.7" fill="none" stroke="#262626" stroke-width="0.35"/>
<rect x="442.34" y="214.45" width="6.86" height="9.85" fill="none" stroke="#262626" stroke-width="0.35"/>
<rect x="449.96" y="234.15" width="6.86" height="9.85" fill="#FF5FB0"/>
<rect x="449.96" y="224.3" width="6.86" height="9.85" fill="#00BA00"/>
<rect x="449.96" y="214.45" width="6.86" height="9.85" fill="#D2A100"/>
<rect x="449.96" y="234.15" width="6.86" height="9.85" fill="none" stroke="#262626" stroke-width="0.35"/>
<rect x="449.96" y="224.3" width="6.86" height="9.85" fill="none" stroke="#262626" stroke-width="0.35"/>
<rect x="449.96" y="214.45" width="6.86" height="9.85" fill="none" stroke="#262626" stroke-width="0.35"/>
<rect x="457.59" y="214.45" width="6.86" height="29.55" fill="#FF5FB0"/>
<rect x="457.59" y="204.6" width="6.86" height="9.85" fill="#8B93FF"/>
<rect x="457.59" y="184.9" width="6.86" height="19.7" fill="#00BA00"/>
<rect x="457.59" y="175.05" width="6.86" height="9.85" fill="#FF8C00"/>
<rect x="457.59" y="165.2" width="6.86" height="9.85" fill="#F8766D"/>
<rect x="457.59" y="214.45" width="6.86" height="29.55" fill="none" stroke="#262626" stroke-width="0.35"/>
<rect x="457.59" y="204.6" width="6.86" height="9.85" fill="none" stroke="#262626" stroke-width="0.35"/>
<rect x="457.59" y="184.9" width="6.86" height="19.7" fill="none" stroke="#262626" stroke-width="0.35"/>
<rect x="457.59" y="175.05" width="6.86" height="9.85" fill="none" stroke="#262626" stroke-width="0.35"/>
<rect x="457.59" y="165.2" width="6.86" height="9.85" fill="none" stroke="#262626" stroke-width="0.35"/>
<rect x="465.21" y="234.15" width="6.86" height="9.85" fill="#FF5FB0"/>
<rect x="465.21" y="224.3" width="6.86" height="9.85" fill="#00BA00"/>
<rect x="465.21" y="214.45" width="6.86" height="9.85" fill="#D2A100"/>
<rect x="465.21" y="234.15" width="6.86" height="9.85" fill="none" stroke="#262626" stroke-width="0.35"/>
<rect x="465.21" y="224.3" width="6.86" height="9.85" fill="none" stroke="#262626" stroke-width="0.35"/>
<rect x="465.21" y="214.45" width="6.86" height="9.85" fill="none" stroke="#262626" stroke-width="0.35"/>
<line x1="472.83" y1="244.1" x2="479.69" y2="244.1" stroke="#555" stroke-width="0.7"/>
<line x1="480.45" y1="244.1" x2="487.31" y2="244.1" stroke="#555" stroke-width="0.7"/>
<rect x="488.07" y="165.2" width="6.86" height="78.8" fill="#FF8C00"/>
<rect x="488.07" y="165.2" width="6.86" height="78.8" fill="none" stroke="#262626" stroke-width="0.35"/>
<line x1="495.7" y1="244.1" x2="502.56" y2="244.1" stroke="#555" stroke-width="0.7"/>
<line x1="303.8" y1="145.2" x2="303.8" y2="244.3" stroke="#5a5a5a" stroke-width="0.75"/>
<line x1="302.3" y1="244" x2="303.8" y2="244" stroke="#5a5a5a" stroke-width="0.5"/>
<text x="302.2" y="246.41" font-size="6.35" class="g" text-anchor="end">0</text>
<line x1="302.3" y1="234.15" x2="303.8" y2="234.15" stroke="#5a5a5a" stroke-width="0.5"/>
<text x="302.2" y="236.56" font-size="6.35" class="g" text-anchor="end">1</text>
<line x1="302.3" y1="224.3" x2="303.8" y2="224.3" stroke="#5a5a5a" stroke-width="0.5"/>
<text x="302.2" y="226.71" font-size="6.35" class="g" text-anchor="end">2</text>
<line x1="302.3" y1="214.45" x2="303.8" y2="214.45" stroke="#5a5a5a" stroke-width="0.5"/>
<text x="302.2" y="216.86" font-size="6.35" class="g" text-anchor="end">3</text>
<line x1="302.3" y1="204.6" x2="303.8" y2="204.6" stroke="#5a5a5a" stroke-width="0.5"/>
<text x="302.2" y="207.01" font-size="6.35" class="g" text-anchor="end">4</text>
<line x1="302.3" y1="194.75" x2="303.8" y2="194.75" stroke="#5a5a5a" stroke-width="0.5"/>
<text x="302.2" y="197.16" font-size="6.35" class="g" text-anchor="end">5</text>
<line x1="302.3" y1="184.9" x2="303.8" y2="184.9" stroke="#5a5a5a" stroke-width="0.5"/>
<text x="302.2" y="187.31" font-size="6.35" class="g" text-anchor="end">6</text>
<line x1="302.3" y1="175.05" x2="303.8" y2="175.05" stroke="#5a5a5a" stroke-width="0.5"/>
<text x="302.2" y="177.46" font-size="6.35" class="g" text-anchor="end">7</text>
<line x1="302.3" y1="165.2" x2="303.8" y2="165.2" stroke="#5a5a5a" stroke-width="0.5"/>
<text x="302.2" y="167.61" font-size="6.35" class="g" text-anchor="end">8</text>
<line x1="302.3" y1="155.35" x2="303.8" y2="155.35" stroke="#5a5a5a" stroke-width="0.5"/>
<text x="302.2" y="157.76" font-size="6.35" class="g" text-anchor="end">9</text>
<line x1="302.3" y1="145.5" x2="303.8" y2="145.5" stroke="#5a5a5a" stroke-width="0.5"/>
<text x="302.2" y="147.91" font-size="6.35" class="g" text-anchor="end">10</text>
<line x1="308.57" y1="244" x2="308.57" y2="245.4" stroke="#5a5a5a" stroke-width="0.5"/>
<text transform="translate(309.07,247.5) rotate(-45)" font-size="6.35" class="g" text-anchor="end" y="3.2">1</text>
<line x1="316.2" y1="244" x2="316.2" y2="245.4" stroke="#5a5a5a" stroke-width="0.5"/>
<text transform="translate(316.7,247.5) rotate(-45)" font-size="6.35" class="g" text-anchor="end" y="3.2">2</text>
<line x1="323.82" y1="244" x2="323.82" y2="245.4" stroke="#5a5a5a" stroke-width="0.5"/>
<text transform="translate(324.32,247.5) rotate(-45)" font-size="6.35" class="g" text-anchor="end" y="3.2">3</text>
<line x1="331.44" y1="244" x2="331.44" y2="245.4" stroke="#5a5a5a" stroke-width="0.5"/>
<text transform="translate(331.94,247.5) rotate(-45)" font-size="6.35" class="g" text-anchor="end" y="3.2">4</text>
<line x1="339.06" y1="244" x2="339.06" y2="245.4" stroke="#5a5a5a" stroke-width="0.5"/>
<text transform="translate(339.56,247.5) rotate(-45)" font-size="6.35" class="g" text-anchor="end" y="3.2">5</text>
<line x1="346.68" y1="244" x2="346.68" y2="245.4" stroke="#5a5a5a" stroke-width="0.5"/>
<text transform="translate(347.18,247.5) rotate(-45)" font-size="6.35" class="g" text-anchor="end" y="3.2">6</text>
<line x1="354.31" y1="244" x2="354.31" y2="245.4" stroke="#5a5a5a" stroke-width="0.5"/>
<text transform="translate(354.81,247.5) rotate(-45)" font-size="6.35" class="g" text-anchor="end" y="3.2">7</text>
<line x1="361.93" y1="244" x2="361.93" y2="245.4" stroke="#5a5a5a" stroke-width="0.5"/>
<text transform="translate(362.43,247.5) rotate(-45)" font-size="6.35" class="g" text-anchor="end" y="3.2">8</text>
<line x1="369.55" y1="244" x2="369.55" y2="245.4" stroke="#5a5a5a" stroke-width="0.5"/>
<text transform="translate(370.05,247.5) rotate(-45)" font-size="6.35" class="g" text-anchor="end" y="3.2">9</text>
<line x1="377.17" y1="244" x2="377.17" y2="245.4" stroke="#5a5a5a" stroke-width="0.5"/>
<text transform="translate(377.67,247.5) rotate(-45)" font-size="6.35" class="g" text-anchor="end" y="3.2">10</text>
<line x1="384.79" y1="244" x2="384.79" y2="245.4" stroke="#5a5a5a" stroke-width="0.5"/>
<text transform="translate(385.29,247.5) rotate(-45)" font-size="6.35" class="g" text-anchor="end" y="3.2">11</text>
<line x1="392.42" y1="244" x2="392.42" y2="245.4" stroke="#5a5a5a" stroke-width="0.5"/>
<text transform="translate(392.92,247.5) rotate(-45)" font-size="6.35" class="g" text-anchor="end" y="3.2">12</text>
<line x1="400.04" y1="244" x2="400.04" y2="245.4" stroke="#5a5a5a" stroke-width="0.5"/>
<text transform="translate(400.54,247.5) rotate(-45)" font-size="6.35" class="g" text-anchor="end" y="3.2">13</text>
<line x1="407.66" y1="244" x2="407.66" y2="245.4" stroke="#5a5a5a" stroke-width="0.5"/>
<text transform="translate(408.16,247.5) rotate(-45)" font-size="6.35" class="g" text-anchor="end" y="3.2">14</text>
<line x1="415.28" y1="244" x2="415.28" y2="245.4" stroke="#5a5a5a" stroke-width="0.5"/>
<text transform="translate(415.78,247.5) rotate(-45)" font-size="6.35" class="g" text-anchor="end" y="3.2">15</text>
<line x1="422.91" y1="244" x2="422.91" y2="245.4" stroke="#5a5a5a" stroke-width="0.5"/>
<text transform="translate(423.41,247.5) rotate(-45)" font-size="6.35" class="g" text-anchor="end" y="3.2">16</text>
<line x1="430.53" y1="244" x2="430.53" y2="245.4" stroke="#5a5a5a" stroke-width="0.5"/>
<text transform="translate(431.03,247.5) rotate(-45)" font-size="6.35" class="g" text-anchor="end" y="3.2">17</text>
<line x1="438.15" y1="244" x2="438.15" y2="245.4" stroke="#5a5a5a" stroke-width="0.5"/>
<text transform="translate(438.65,247.5) rotate(-45)" font-size="6.35" class="g" text-anchor="end" y="3.2">18</text>
<line x1="445.77" y1="244" x2="445.77" y2="245.4" stroke="#5a5a5a" stroke-width="0.5"/>
<text transform="translate(446.27,247.5) rotate(-45)" font-size="6.35" class="g" text-anchor="end" y="3.2">19</text>
<line x1="453.39" y1="244" x2="453.39" y2="245.4" stroke="#5a5a5a" stroke-width="0.5"/>
<text transform="translate(453.89,247.5) rotate(-45)" font-size="6.35" class="g" text-anchor="end" y="3.2">20</text>
<line x1="461.02" y1="244" x2="461.02" y2="245.4" stroke="#5a5a5a" stroke-width="0.5"/>
<text transform="translate(461.52,247.5) rotate(-45)" font-size="6.35" class="g" text-anchor="end" y="3.2">21</text>
<line x1="468.64" y1="244" x2="468.64" y2="245.4" stroke="#5a5a5a" stroke-width="0.5"/>
<text transform="translate(469.14,247.5) rotate(-45)" font-size="6.35" class="g" text-anchor="end" y="3.2">22</text>
<line x1="476.26" y1="244" x2="476.26" y2="245.4" stroke="#5a5a5a" stroke-width="0.5"/>
<text transform="translate(476.76,247.5) rotate(-45)" font-size="6.35" class="g" text-anchor="end" y="3.2">X</text>
<line x1="483.88" y1="244" x2="483.88" y2="245.4" stroke="#5a5a5a" stroke-width="0.5"/>
<text transform="translate(484.38,247.5) rotate(-45)" font-size="6.35" class="g" text-anchor="end" y="3.2">Y</text>
<line x1="491.5" y1="244" x2="491.5" y2="245.4" stroke="#5a5a5a" stroke-width="0.5"/>
<text transform="translate(492,247.5) rotate(-45)" font-size="6.35" class="g" text-anchor="end" y="3.2">marker</text>
<line x1="499.13" y1="244" x2="499.13" y2="245.4" stroke="#5a5a5a" stroke-width="0.5"/>
<text transform="translate(499.63,247.5) rotate(-45)" font-size="6.35" class="g" text-anchor="end" y="3.2">dmin</text>
<text transform="translate(291.9,194.6) rotate(-90)" font-size="8.8" text-anchor="middle">Frequeny of Abnormality</text>
<text x="403.6" y="267" font-size="8.7" text-anchor="middle">Chromosome</text>
<text class="p" x="279.5" y="135" font-size="9.6">D</text>
<text x="509.5" y="154.5" font-size="6.55">Abnormality</text>
<rect x="509.7" y="158.4" width="5.8" height="6.34" fill="#F8766D" stroke="#262626" stroke-width="0.35"/>
<text class="l" x="518.9" y="163.97" font-size="6.5">–</text>
<rect x="509.7" y="164.74" width="5.8" height="6.34" fill="#FF8C00" stroke="#262626" stroke-width="0.35"/>
<text class="l" x="518.9" y="170.31" font-size="6.5">+</text>
<rect x="509.7" y="171.08" width="5.8" height="6.34" fill="#D2A100" stroke="#262626" stroke-width="0.35"/>
<text class="l" x="518.9" y="176.66" font-size="6.5">add</text>
<rect x="509.7" y="177.42" width="5.8" height="6.34" fill="#8DB600" stroke="#262626" stroke-width="0.35"/>
<text class="l" x="518.9" y="183" font-size="6.5">del</text>
<rect x="509.7" y="183.76" width="5.8" height="6.34" fill="#00BA00" stroke="#262626" stroke-width="0.35"/>
<text class="l" x="518.9" y="189.33" font-size="6.5">der</text>
<rect x="509.7" y="190.1" width="5.8" height="6.34" fill="#00BF7D" stroke="#262626" stroke-width="0.35"/>
<text class="l" x="518.9" y="195.67" font-size="6.5">dic</text>
<rect x="509.7" y="196.44" width="5.8" height="6.34" fill="#00BFB2" stroke="#262626" stroke-width="0.35"/>
<text class="l" x="518.9" y="202.01" font-size="6.5">dup</text>
<rect x="509.7" y="202.78" width="5.8" height="6.34" fill="#00BBDA" stroke="#262626" stroke-width="0.35"/>
<text class="l" x="518.9" y="208.35" font-size="6.5">i</text>
<rect x="509.7" y="209.12" width="5.8" height="6.34" fill="#00ABF5" stroke="#262626" stroke-width="0.35"/>
<text class="l" x="518.9" y="214.69" font-size="6.5">ins</text>
<rect x="509.7" y="215.46" width="5.8" height="6.34" fill="#8B93FF" stroke="#262626" stroke-width="0.35"/>
<text class="l" x="518.9" y="221.03" font-size="6.5">inv</text>
<rect x="509.7" y="221.8" width="5.8" height="6.34" fill="#E36EF6" stroke="#262626" stroke-width="0.35"/>
<text class="l" x="518.9" y="227.38" font-size="6.5">iso</text>
<rect x="509.7" y="228.14" width="5.8" height="6.34" fill="#FFC1C1" stroke="#262626" stroke-width="0.35"/>
<text class="l" x="518.9" y="233.71" font-size="6.5">r(chr)</text>
<rect x="509.7" y="234.48" width="5.8" height="6.34" fill="#FF5FB0" stroke="#262626" stroke-width="0.35"/>
<text class="l" x="518.9" y="240.06" font-size="6.5">t</text>
</svg>
</body></html>
